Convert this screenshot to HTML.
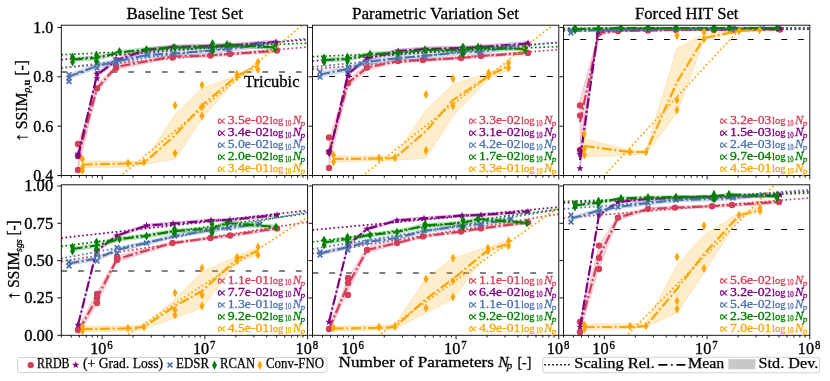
<!DOCTYPE html>
<html><head><meta charset="utf-8"><style>
html,body{margin:0;padding:0;background:#fff;width:830px;height:381px;overflow:hidden}
svg{display:block;will-change:transform}
</style></head><body>
<svg width="830" height="381" viewBox="0 0 830 381" font-family='"Liberation Serif", serif'><defs><clipPath id="c00"><rect x="61.30" y="25.20" width="246.30" height="150.30"/></clipPath><clipPath id="c10"><rect x="312.50" y="25.20" width="246.30" height="150.30"/></clipPath><clipPath id="c20"><rect x="563.50" y="25.20" width="246.30" height="150.30"/></clipPath><clipPath id="c01"><rect x="61.30" y="184.80" width="246.30" height="150.50"/></clipPath><clipPath id="c11"><rect x="312.50" y="184.80" width="246.30" height="150.50"/></clipPath><clipPath id="c21"><rect x="563.50" y="184.80" width="246.30" height="150.50"/></clipPath></defs><g clip-path="url(#c00)">
<path d="M61.35,72.00H307.60" stroke="#000" stroke-width="1.15" stroke-dasharray="5.8 10.95"/>
<polygon points="78.00,144.00 97.00,85.00 116.00,64.50 172.50,55.00 210.50,54.00 230.00,52.50 277.00,49.50 277.00,52.50 230.00,55.50 210.50,57.00 172.50,58.00 116.00,69.50 97.00,92.00 78.00,170.00" fill="#D53E58" fill-opacity="0.2" stroke="#D53E58" stroke-opacity="0.25" stroke-width="0.8"/>
<polyline points="78.00,157.00 97.00,88.50 116.00,67.00 172.50,56.50 210.50,55.50 230.00,54.00 277.00,51.00" fill="none" stroke="#D53E58" stroke-width="2.2" stroke-dasharray="10.2 2.6 2 2.6"/>
<circle cx="78.00" cy="144.00" r="3.2" fill="#D53E58"/>
<circle cx="78.00" cy="156.00" r="3.2" fill="#D53E58"/>
<circle cx="78.00" cy="170.00" r="3.2" fill="#D53E58"/>
<circle cx="97.00" cy="88.50" r="3.2" fill="#D53E58"/>
<circle cx="116.00" cy="66.00" r="3.2" fill="#D53E58"/>
<circle cx="116.00" cy="68.00" r="3.2" fill="#D53E58"/>
<circle cx="172.50" cy="57.50" r="3.2" fill="#D53E58"/>
<circle cx="210.50" cy="55.50" r="3.2" fill="#D53E58"/>
<circle cx="230.00" cy="54.00" r="3.2" fill="#D53E58"/>
<circle cx="277.00" cy="50.50" r="3.2" fill="#D53E58"/>
<path d="M61.30,67.80L307.60,47.11" stroke="#D53E58" stroke-width="1.7" stroke-dasharray="1.7 2.5"/>
<polygon points="78.00,154.00 97.00,73.00 116.00,58.50 146.00,48.00 173.00,45.00 211.00,44.00 230.00,43.50 276.00,40.00 276.00,44.00 230.00,47.50 211.00,48.00 173.00,49.00 146.00,52.00 116.00,62.50 97.00,77.00 78.00,158.00" fill="#800080" fill-opacity="0.2" stroke="#800080" stroke-opacity="0.25" stroke-width="0.8"/>
<polyline points="78.00,156.00 97.00,75.00 116.00,60.50 146.00,50.00 173.00,47.00 211.00,46.00 230.00,45.50 276.00,42.00" fill="none" stroke="#800080" stroke-width="2.2" stroke-dasharray="10.2 2.6 2 2.6"/>
<polygon points="78.00,152.70 78.94,155.21 81.61,155.33 79.52,156.99 80.23,159.57 78.00,158.10 75.77,159.57 76.48,156.99 74.39,155.33 77.06,155.21" fill="#800080"/>
<polygon points="78.00,150.20 78.94,152.71 81.61,152.83 79.52,154.49 80.23,157.07 78.00,155.60 75.77,157.07 76.48,154.49 74.39,152.83 77.06,152.71" fill="#800080"/>
<polygon points="97.00,70.20 97.94,72.71 100.61,72.83 98.52,74.49 99.23,77.07 97.00,75.60 94.77,77.07 95.48,74.49 93.39,72.83 96.06,72.71" fill="#800080"/>
<polygon points="97.00,74.70 97.94,77.21 100.61,77.33 98.52,78.99 99.23,81.57 97.00,80.10 94.77,81.57 95.48,78.99 93.39,77.33 96.06,77.21" fill="#800080"/>
<polygon points="116.00,55.20 116.94,57.71 119.61,57.83 117.52,59.49 118.23,62.07 116.00,60.60 113.77,62.07 114.48,59.49 112.39,57.83 115.06,57.71" fill="#800080"/>
<polygon points="116.00,58.20 116.94,60.71 119.61,60.83 117.52,62.49 118.23,65.07 116.00,63.60 113.77,65.07 114.48,62.49 112.39,60.83 115.06,60.71" fill="#800080"/>
<polygon points="146.00,46.20 146.94,48.71 149.61,48.83 147.52,50.49 148.23,53.07 146.00,51.60 143.77,53.07 144.48,50.49 142.39,48.83 145.06,48.71" fill="#800080"/>
<polygon points="173.00,43.20 173.94,45.71 176.61,45.83 174.52,47.49 175.23,50.07 173.00,48.60 170.77,50.07 171.48,47.49 169.39,45.83 172.06,45.71" fill="#800080"/>
<polygon points="211.00,42.20 211.94,44.71 214.61,44.83 212.52,46.49 213.23,49.07 211.00,47.60 208.77,49.07 209.48,46.49 207.39,44.83 210.06,44.71" fill="#800080"/>
<polygon points="230.00,41.20 230.94,43.71 233.61,43.83 231.52,45.49 232.23,48.07 230.00,46.60 227.77,48.07 228.48,45.49 226.39,43.83 229.06,43.71" fill="#800080"/>
<polygon points="276.00,38.20 276.94,40.71 279.61,40.83 277.52,42.49 278.23,45.07 276.00,43.60 273.77,45.07 274.48,42.49 272.39,40.83 275.06,40.71" fill="#800080"/>
<polygon points="276.00,39.20 276.94,41.71 279.61,41.83 277.52,43.49 278.23,46.07 276.00,44.60 273.77,46.07 274.48,43.49 272.39,41.83 275.06,41.71" fill="#800080"/>
<path d="M61.30,59.70L307.60,39.58" stroke="#800080" stroke-width="1.7" stroke-dasharray="1.7 2.5"/>
<polygon points="69.00,74.00 97.00,63.50 116.00,59.00 147.00,52.50 174.00,51.00 212.00,48.00 229.00,46.50 260.00,42.50 260.00,47.50 229.00,51.50 212.00,53.00 174.00,56.00 147.00,57.50 116.00,64.00 97.00,68.50 69.00,79.00" fill="#4C72B0" fill-opacity="0.2" stroke="#4C72B0" stroke-opacity="0.25" stroke-width="0.8"/>
<polyline points="69.00,76.50 97.00,66.00 116.00,61.50 147.00,55.00 174.00,53.50 212.00,50.50 229.00,49.00 260.00,45.00" fill="none" stroke="#4C72B0" stroke-width="2.2" stroke-dasharray="10.2 2.6 2 2.6"/>
<path d="M66.60,72.20L71.40,77.00M66.60,77.00L71.40,72.20" stroke="#4C72B0" stroke-width="1.6"/>
<path d="M66.60,75.60L71.40,80.40M66.60,80.40L71.40,75.60" stroke="#4C72B0" stroke-width="1.6"/>
<path d="M66.60,79.10L71.40,83.90M66.60,83.90L71.40,79.10" stroke="#4C72B0" stroke-width="1.6"/>
<path d="M94.60,61.10L99.40,65.90M94.60,65.90L99.40,61.10" stroke="#4C72B0" stroke-width="1.6"/>
<path d="M94.60,65.60L99.40,70.40M94.60,70.40L99.40,65.60" stroke="#4C72B0" stroke-width="1.6"/>
<path d="M113.60,57.60L118.40,62.40M113.60,62.40L118.40,57.60" stroke="#4C72B0" stroke-width="1.6"/>
<path d="M113.60,60.60L118.40,65.40M113.60,65.40L118.40,60.60" stroke="#4C72B0" stroke-width="1.6"/>
<path d="M144.60,52.60L149.40,57.40M144.60,57.40L149.40,52.60" stroke="#4C72B0" stroke-width="1.6"/>
<path d="M171.60,51.10L176.40,55.90M171.60,55.90L176.40,51.10" stroke="#4C72B0" stroke-width="1.6"/>
<path d="M209.60,47.60L214.40,52.40M209.60,52.40L214.40,47.60" stroke="#4C72B0" stroke-width="1.6"/>
<path d="M226.60,47.10L231.40,51.90M226.60,51.90L231.40,47.10" stroke="#4C72B0" stroke-width="1.6"/>
<path d="M257.60,41.60L262.40,46.40M257.60,46.40L262.40,41.60" stroke="#4C72B0" stroke-width="1.6"/>
<path d="M257.60,43.60L262.40,48.40M257.60,48.40L262.40,43.60" stroke="#4C72B0" stroke-width="1.6"/>
<path d="M61.30,68.00L307.60,38.42" stroke="#4C72B0" stroke-width="1.7" stroke-dasharray="1.7 2.5"/>
<polygon points="72.50,57.50 96.50,56.00 119.50,50.50 146.50,47.50 174.50,45.50 212.50,45.00 227.00,43.00 275.00,45.50 275.00,49.50 227.00,47.00 212.50,49.00 174.50,49.50 146.50,51.50 119.50,54.50 96.50,60.00 72.50,61.50" fill="#008000" fill-opacity="0.2" stroke="#008000" stroke-opacity="0.25" stroke-width="0.8"/>
<polyline points="72.50,59.50 96.50,58.00 119.50,52.50 146.50,49.50 174.50,47.50 212.50,47.00 227.00,45.00 275.00,47.50" fill="none" stroke="#008000" stroke-width="2.2" stroke-dasharray="10.2 2.6 2 2.6"/>
<polygon points="72.50,52.40 75.00,57.00 72.50,61.60 70.00,57.00" fill="#008000"/>
<polygon points="72.50,57.40 75.00,62.00 72.50,66.60 70.00,62.00" fill="#008000"/>
<polygon points="96.50,50.40 99.00,55.00 96.50,59.60 94.00,55.00" fill="#008000"/>
<polygon points="96.50,56.40 99.00,61.00 96.50,65.60 94.00,61.00" fill="#008000"/>
<polygon points="119.50,46.90 122.00,51.50 119.50,56.10 117.00,51.50" fill="#008000"/>
<polygon points="146.50,44.90 149.00,49.50 146.50,54.10 144.00,49.50" fill="#008000"/>
<polygon points="174.50,42.90 177.00,47.50 174.50,52.10 172.00,47.50" fill="#008000"/>
<polygon points="212.50,38.90 215.00,43.50 212.50,48.10 210.00,43.50" fill="#008000"/>
<polygon points="212.50,46.40 215.00,51.00 212.50,55.60 210.00,51.00" fill="#008000"/>
<polygon points="227.00,39.90 229.50,44.50 227.00,49.10 224.50,44.50" fill="#008000"/>
<polygon points="275.00,41.90 277.50,46.50 275.00,51.10 272.50,46.50" fill="#008000"/>
<polygon points="275.00,43.90 277.50,48.50 275.00,53.10 272.50,48.50" fill="#008000"/>
<path d="M61.30,54.80L307.60,42.98" stroke="#008000" stroke-width="1.7" stroke-dasharray="1.7 2.5"/>
<polygon points="82.50,161.00 128.00,161.00 144.00,162.30 175.00,114.40 202.00,88.30 237.00,75.50 258.00,62.00 258.00,69.50 237.00,78.50 202.00,118.90 175.00,159.30 144.00,164.40 128.00,167.00 82.50,168.00" fill="#FFA500" fill-opacity="0.2" stroke="#FFA500" stroke-opacity="0.25" stroke-width="0.8"/>
<polyline points="82.50,164.50 128.00,163.50 144.00,163.00 175.00,135.30 202.00,105.40 237.00,76.00 258.00,65.50" fill="none" stroke="#FFA500" stroke-width="2.2" stroke-dasharray="10.2 2.6 2 2.6"/>
<polygon points="82.50,154.40 85.00,159.00 82.50,163.60 80.00,159.00" fill="#FFA500"/>
<polygon points="82.50,162.40 85.00,167.00 82.50,171.60 80.00,167.00" fill="#FFA500"/>
<polygon points="82.50,165.90 85.00,170.50 82.50,175.10 80.00,170.50" fill="#FFA500"/>
<polygon points="128.00,158.40 130.50,163.00 128.00,167.60 125.50,163.00" fill="#FFA500"/>
<polygon points="144.00,157.40 146.50,162.00 144.00,166.60 141.50,162.00" fill="#FFA500"/>
<polygon points="175.00,100.80 177.50,105.40 175.00,110.00 172.50,105.40" fill="#FFA500"/>
<polygon points="175.00,148.70 177.50,153.30 175.00,157.90 172.50,153.30" fill="#FFA500"/>
<polygon points="202.00,80.40 204.50,85.00 202.00,89.60 199.50,85.00" fill="#FFA500"/>
<polygon points="202.00,102.30 204.50,106.90 202.00,111.50 199.50,106.90" fill="#FFA500"/>
<polygon points="202.00,111.30 204.50,115.90 202.00,120.50 199.50,115.90" fill="#FFA500"/>
<polygon points="237.00,69.40 239.50,74.00 237.00,78.60 234.50,74.00" fill="#FFA500"/>
<polygon points="237.00,72.40 239.50,77.00 237.00,81.60 234.50,77.00" fill="#FFA500"/>
<polygon points="258.00,57.40 260.50,62.00 258.00,66.60 255.50,62.00" fill="#FFA500"/>
<polygon points="258.00,64.90 260.50,69.50 258.00,74.10 255.50,69.50" fill="#FFA500"/>
<path d="M61.30,225.14L307.60,20.95" stroke="#FFA500" stroke-width="1.7" stroke-dasharray="1.7 2.5"/>
</g>
<text x="244" y="86.5" font-size="15.9" textLength="55.5" lengthAdjust="spacingAndGlyphs" stroke="#000" stroke-width="0.3">Tricubic</text>
<g clip-path="url(#c10)">
<path d="M312.55,76.50H558.80" stroke="#000" stroke-width="1.15" stroke-dasharray="5.8 10.95"/>
<polygon points="329.00,139.50 348.00,79.00 367.00,64.60 398.00,59.50 423.00,58.50 461.00,56.50 481.00,54.50 528.00,51.50 528.00,54.50 481.00,57.50 461.00,59.50 423.00,61.50 398.00,62.50 367.00,70.60 348.00,87.00 329.00,165.50" fill="#D53E58" fill-opacity="0.2" stroke="#D53E58" stroke-opacity="0.25" stroke-width="0.8"/>
<polyline points="329.00,152.50 348.00,83.00 367.00,67.60 398.00,61.00 423.00,60.00 461.00,58.00 481.00,56.00 528.00,53.00" fill="none" stroke="#D53E58" stroke-width="2.2" stroke-dasharray="10.2 2.6 2 2.6"/>
<circle cx="329.00" cy="137.40" r="3.2" fill="#D53E58"/>
<circle cx="329.00" cy="152.00" r="3.2" fill="#D53E58"/>
<circle cx="329.00" cy="168.00" r="3.2" fill="#D53E58"/>
<circle cx="348.00" cy="83.00" r="3.2" fill="#D53E58"/>
<circle cx="367.00" cy="67.60" r="3.2" fill="#D53E58"/>
<circle cx="398.00" cy="61.00" r="3.2" fill="#D53E58"/>
<circle cx="423.00" cy="60.00" r="3.2" fill="#D53E58"/>
<circle cx="461.00" cy="58.00" r="3.2" fill="#D53E58"/>
<circle cx="481.00" cy="56.00" r="3.2" fill="#D53E58"/>
<circle cx="528.00" cy="53.00" r="3.2" fill="#D53E58"/>
<path d="M312.50,69.10L558.80,49.57" stroke="#D53E58" stroke-width="1.7" stroke-dasharray="1.7 2.5"/>
<polygon points="329.00,154.00 348.00,72.00 367.00,56.50 398.00,49.00 425.00,47.00 462.00,46.00 481.00,45.00 528.00,41.50 528.00,45.50 481.00,49.00 462.00,50.00 425.00,51.00 398.00,53.00 367.00,60.50 348.00,76.00 329.00,158.00" fill="#800080" fill-opacity="0.2" stroke="#800080" stroke-opacity="0.25" stroke-width="0.8"/>
<polyline points="329.00,156.00 348.00,74.00 367.00,58.50 398.00,51.00 425.00,49.00 462.00,48.00 481.00,47.00 528.00,43.50" fill="none" stroke="#800080" stroke-width="2.2" stroke-dasharray="10.2 2.6 2 2.6"/>
<polygon points="329.00,147.80 329.94,150.31 332.61,150.43 330.52,152.09 331.23,154.67 329.00,153.20 326.77,154.67 327.48,152.09 325.39,150.43 328.06,150.31" fill="#800080"/>
<polygon points="348.00,68.20 348.94,70.71 351.61,70.83 349.52,72.49 350.23,75.07 348.00,73.60 345.77,75.07 346.48,72.49 344.39,70.83 347.06,70.71" fill="#800080"/>
<polygon points="348.00,72.20 348.94,74.71 351.61,74.83 349.52,76.49 350.23,79.07 348.00,77.60 345.77,79.07 346.48,76.49 344.39,74.83 347.06,74.71" fill="#800080"/>
<polygon points="367.00,54.20 367.94,56.71 370.61,56.83 368.52,58.49 369.23,61.07 367.00,59.60 364.77,61.07 365.48,58.49 363.39,56.83 366.06,56.71" fill="#800080"/>
<polygon points="398.00,47.20 398.94,49.71 401.61,49.83 399.52,51.49 400.23,54.07 398.00,52.60 395.77,54.07 396.48,51.49 394.39,49.83 397.06,49.71" fill="#800080"/>
<polygon points="425.00,45.20 425.94,47.71 428.61,47.83 426.52,49.49 427.23,52.07 425.00,50.60 422.77,52.07 423.48,49.49 421.39,47.83 424.06,47.71" fill="#800080"/>
<polygon points="462.00,44.20 462.94,46.71 465.61,46.83 463.52,48.49 464.23,51.07 462.00,49.60 459.77,51.07 460.48,48.49 458.39,46.83 461.06,46.71" fill="#800080"/>
<polygon points="481.00,43.20 481.94,45.71 484.61,45.83 482.52,47.49 483.23,50.07 481.00,48.60 478.77,50.07 479.48,47.49 477.39,45.83 480.06,45.71" fill="#800080"/>
<polygon points="528.00,39.20 528.94,41.71 531.61,41.83 529.52,43.49 530.23,46.07 528.00,44.60 525.77,46.07 526.48,43.49 524.39,41.83 527.06,41.71" fill="#800080"/>
<polygon points="528.00,40.70 528.94,43.21 531.61,43.33 529.52,44.99 530.23,47.57 528.00,46.10 525.77,47.57 526.48,44.99 524.39,43.33 527.06,43.21" fill="#800080"/>
<path d="M312.50,61.00L558.80,42.65" stroke="#800080" stroke-width="1.7" stroke-dasharray="1.7 2.5"/>
<polygon points="320.00,72.00 348.00,66.50 367.00,59.50 398.00,55.50 425.00,53.50 463.00,49.50 480.00,49.50 511.00,44.50 511.00,49.50 480.00,54.50 463.00,54.50 425.00,58.50 398.00,60.50 367.00,64.50 348.00,71.50 320.00,77.00" fill="#4C72B0" fill-opacity="0.2" stroke="#4C72B0" stroke-opacity="0.25" stroke-width="0.8"/>
<polyline points="320.00,74.50 348.00,69.00 367.00,62.00 398.00,58.00 425.00,56.00 463.00,52.00 480.00,52.00 511.00,47.00" fill="none" stroke="#4C72B0" stroke-width="2.2" stroke-dasharray="10.2 2.6 2 2.6"/>
<path d="M317.60,69.60L322.40,74.40M317.60,74.40L322.40,69.60" stroke="#4C72B0" stroke-width="1.6"/>
<path d="M317.60,74.60L322.40,79.40M317.60,79.40L322.40,74.60" stroke="#4C72B0" stroke-width="1.6"/>
<path d="M345.60,64.60L350.40,69.40M345.60,69.40L350.40,64.60" stroke="#4C72B0" stroke-width="1.6"/>
<path d="M345.60,68.60L350.40,73.40M345.60,73.40L350.40,68.60" stroke="#4C72B0" stroke-width="1.6"/>
<path d="M364.60,59.60L369.40,64.40M364.60,64.40L369.40,59.60" stroke="#4C72B0" stroke-width="1.6"/>
<path d="M395.60,55.60L400.40,60.40M395.60,60.40L400.40,55.60" stroke="#4C72B0" stroke-width="1.6"/>
<path d="M422.60,53.60L427.40,58.40M422.60,58.40L427.40,53.60" stroke="#4C72B0" stroke-width="1.6"/>
<path d="M460.60,49.60L465.40,54.40M460.60,54.40L465.40,49.60" stroke="#4C72B0" stroke-width="1.6"/>
<path d="M477.60,49.60L482.40,54.40M477.60,54.40L482.40,49.60" stroke="#4C72B0" stroke-width="1.6"/>
<path d="M508.60,44.60L513.40,49.40M508.60,49.40L513.40,44.60" stroke="#4C72B0" stroke-width="1.6"/>
<path d="M312.50,67.00L558.80,42.15" stroke="#4C72B0" stroke-width="1.7" stroke-dasharray="1.7 2.5"/>
<polygon points="324.00,58.00 347.50,57.00 370.00,52.00 398.00,51.00 425.00,48.00 463.00,48.00 478.00,45.50 525.00,47.00 525.00,51.00 478.00,49.50 463.00,52.00 425.00,52.00 398.00,55.00 370.00,56.00 347.50,61.00 324.00,62.00" fill="#008000" fill-opacity="0.2" stroke="#008000" stroke-opacity="0.25" stroke-width="0.8"/>
<polyline points="324.00,60.00 347.50,59.00 370.00,54.00 398.00,53.00 425.00,50.00 463.00,50.00 478.00,47.50 525.00,49.00" fill="none" stroke="#008000" stroke-width="2.2" stroke-dasharray="10.2 2.6 2 2.6"/>
<polygon points="324.00,53.40 326.50,58.00 324.00,62.60 321.50,58.00" fill="#008000"/>
<polygon points="324.00,57.40 326.50,62.00 324.00,66.60 321.50,62.00" fill="#008000"/>
<polygon points="347.50,52.40 350.00,57.00 347.50,61.60 345.00,57.00" fill="#008000"/>
<polygon points="347.50,56.40 350.00,61.00 347.50,65.60 345.00,61.00" fill="#008000"/>
<polygon points="370.00,49.40 372.50,54.00 370.00,58.60 367.50,54.00" fill="#008000"/>
<polygon points="398.00,48.40 400.50,53.00 398.00,57.60 395.50,53.00" fill="#008000"/>
<polygon points="425.00,45.40 427.50,50.00 425.00,54.60 422.50,50.00" fill="#008000"/>
<polygon points="463.00,42.40 465.50,47.00 463.00,51.60 460.50,47.00" fill="#008000"/>
<polygon points="463.00,49.40 465.50,54.00 463.00,58.60 460.50,54.00" fill="#008000"/>
<polygon points="478.00,42.40 480.50,47.00 478.00,51.60 475.50,47.00" fill="#008000"/>
<polygon points="525.00,43.40 527.50,48.00 525.00,52.60 522.50,48.00" fill="#008000"/>
<polygon points="525.00,45.40 527.50,50.00 525.00,54.60 522.50,50.00" fill="#008000"/>
<path d="M312.50,56.60L558.80,46.55" stroke="#008000" stroke-width="1.7" stroke-dasharray="1.7 2.5"/>
<polygon points="333.50,156.00 379.00,156.00 395.00,155.50 426.00,110.00 453.00,84.00 488.60,73.00 508.60,62.00 508.60,70.00 488.60,79.00 453.00,116.00 426.00,158.00 395.00,160.50 379.00,161.00 333.50,162.00" fill="#FFA500" fill-opacity="0.2" stroke="#FFA500" stroke-opacity="0.25" stroke-width="0.8"/>
<polyline points="333.50,159.00 379.00,158.50 395.00,158.00 426.00,131.00 453.00,100.00 488.60,76.00 508.60,66.00" fill="none" stroke="#FFA500" stroke-width="2.2" stroke-dasharray="10.2 2.6 2 2.6"/>
<polygon points="333.50,150.40 336.00,155.00 333.50,159.60 331.00,155.00" fill="#FFA500"/>
<polygon points="333.50,157.40 336.00,162.00 333.50,166.60 331.00,162.00" fill="#FFA500"/>
<polygon points="379.00,153.40 381.50,158.00 379.00,162.60 376.50,158.00" fill="#FFA500"/>
<polygon points="395.00,153.00 397.50,157.60 395.00,162.20 392.50,157.60" fill="#FFA500"/>
<polygon points="426.00,89.80 428.50,94.40 426.00,99.00 423.50,94.40" fill="#FFA500"/>
<polygon points="426.00,145.80 428.50,150.40 426.00,155.00 423.50,150.40" fill="#FFA500"/>
<polygon points="453.00,74.00 455.50,78.60 453.00,83.20 450.50,78.60" fill="#FFA500"/>
<polygon points="453.00,101.40 455.50,106.00 453.00,110.60 450.50,106.00" fill="#FFA500"/>
<polygon points="488.60,68.40 491.10,73.00 488.60,77.60 486.10,73.00" fill="#FFA500"/>
<polygon points="488.60,71.40 491.10,76.00 488.60,80.60 486.10,76.00" fill="#FFA500"/>
<polygon points="508.60,58.40 511.10,63.00 508.60,67.60 506.10,63.00" fill="#FFA500"/>
<polygon points="508.60,63.40 511.10,68.00 508.60,72.60 506.10,68.00" fill="#FFA500"/>
<path d="M312.50,215.63L558.80,20.32" stroke="#FFA500" stroke-width="1.7" stroke-dasharray="1.7 2.5"/>
</g>
<g clip-path="url(#c20)">
<path d="M563.55,39.50H809.80" stroke="#000" stroke-width="1.15" stroke-dasharray="5.8 10.95"/>
<polygon points="580.00,100.00 599.00,31.00 618.00,30.00 648.00,29.50 676.00,29.00 714.00,29.00 733.00,29.00 780.00,28.50 780.00,30.50 733.00,31.00 714.00,31.00 676.00,31.00 648.00,31.50 618.00,32.00 599.00,35.00 580.00,144.00" fill="#D53E58" fill-opacity="0.2" stroke="#D53E58" stroke-opacity="0.25" stroke-width="0.8"/>
<polyline points="580.00,122.00 599.00,33.00 618.00,31.00 648.00,30.50 676.00,30.00 714.00,30.00 733.00,30.00 780.00,29.50" fill="none" stroke="#D53E58" stroke-width="2.2" stroke-dasharray="10.2 2.6 2 2.6"/>
<circle cx="580.00" cy="105.40" r="3.2" fill="#D53E58"/>
<circle cx="580.00" cy="115.60" r="3.2" fill="#D53E58"/>
<circle cx="580.00" cy="150.00" r="3.2" fill="#D53E58"/>
<circle cx="599.00" cy="33.00" r="3.2" fill="#D53E58"/>
<circle cx="618.00" cy="31.00" r="3.2" fill="#D53E58"/>
<circle cx="648.00" cy="30.50" r="3.2" fill="#D53E58"/>
<circle cx="676.00" cy="30.00" r="3.2" fill="#D53E58"/>
<circle cx="714.00" cy="30.00" r="3.2" fill="#D53E58"/>
<circle cx="733.00" cy="30.00" r="3.2" fill="#D53E58"/>
<circle cx="780.00" cy="29.50" r="3.2" fill="#D53E58"/>
<path d="M563.50,31.00L809.80,29.10" stroke="#D53E58" stroke-width="1.7" stroke-dasharray="1.7 2.5"/>
<polygon points="580.00,150.00 598.00,29.00 618.00,28.50 648.00,28.00 676.00,28.00 714.00,28.00 733.00,28.00 780.00,27.50 780.00,29.50 733.00,30.00 714.00,30.00 676.00,30.00 648.00,30.00 618.00,30.50 598.00,33.00 580.00,170.00" fill="#800080" fill-opacity="0.2" stroke="#800080" stroke-opacity="0.25" stroke-width="0.8"/>
<polyline points="580.00,160.00 598.00,31.00 618.00,29.50 648.00,29.00 676.00,29.00 714.00,29.00 733.00,29.00 780.00,28.50" fill="none" stroke="#800080" stroke-width="2.2" stroke-dasharray="10.2 2.6 2 2.6"/>
<polygon points="580.00,146.20 580.94,148.71 583.61,148.83 581.52,150.49 582.23,153.07 580.00,151.60 577.77,153.07 578.48,150.49 576.39,148.83 579.06,148.71" fill="#800080"/>
<polygon points="580.00,150.70 580.94,153.21 583.61,153.33 581.52,154.99 582.23,157.57 580.00,156.10 577.77,157.57 578.48,154.99 576.39,153.33 579.06,153.21" fill="#800080"/>
<polygon points="580.00,164.70 580.94,167.21 583.61,167.33 581.52,168.99 582.23,171.57 580.00,170.10 577.77,171.57 578.48,168.99 576.39,167.33 579.06,167.21" fill="#800080"/>
<polygon points="598.00,27.20 598.94,29.71 601.61,29.83 599.52,31.49 600.23,34.07 598.00,32.60 595.77,34.07 596.48,31.49 594.39,29.83 597.06,29.71" fill="#800080"/>
<polygon points="618.00,25.70 618.94,28.21 621.61,28.33 619.52,29.99 620.23,32.57 618.00,31.10 615.77,32.57 616.48,29.99 614.39,28.33 617.06,28.21" fill="#800080"/>
<polygon points="648.00,25.20 648.94,27.71 651.61,27.83 649.52,29.49 650.23,32.07 648.00,30.60 645.77,32.07 646.48,29.49 644.39,27.83 647.06,27.71" fill="#800080"/>
<polygon points="676.00,25.20 676.94,27.71 679.61,27.83 677.52,29.49 678.23,32.07 676.00,30.60 673.77,32.07 674.48,29.49 672.39,27.83 675.06,27.71" fill="#800080"/>
<polygon points="714.00,25.20 714.94,27.71 717.61,27.83 715.52,29.49 716.23,32.07 714.00,30.60 711.77,32.07 712.48,29.49 710.39,27.83 713.06,27.71" fill="#800080"/>
<polygon points="733.00,25.20 733.94,27.71 736.61,27.83 734.52,29.49 735.23,32.07 733.00,30.60 730.77,32.07 731.48,29.49 729.39,27.83 732.06,27.71" fill="#800080"/>
<polygon points="780.00,24.70 780.94,27.21 783.61,27.33 781.52,28.99 782.23,31.57 780.00,30.10 777.77,31.57 778.48,28.99 776.39,27.33 779.06,27.21" fill="#800080"/>
<path d="M563.50,30.00L809.80,29.11" stroke="#800080" stroke-width="1.7" stroke-dasharray="1.7 2.5"/>
<polygon points="571.00,29.80 599.00,28.80 618.00,28.30 648.00,27.80 676.00,27.80 714.00,27.80 733.00,27.30 762.00,27.30 762.00,29.70 733.00,29.70 714.00,30.20 676.00,30.20 648.00,30.20 618.00,30.70 599.00,31.20 571.00,32.20" fill="#4C72B0" fill-opacity="0.2" stroke="#4C72B0" stroke-opacity="0.25" stroke-width="0.8"/>
<polyline points="571.00,31.00 599.00,30.00 618.00,29.50 648.00,29.00 676.00,29.00 714.00,29.00 733.00,28.50 762.00,28.50" fill="none" stroke="#4C72B0" stroke-width="2.2" stroke-dasharray="10.2 2.6 2 2.6"/>
<path d="M568.60,27.60L573.40,32.40M568.60,32.40L573.40,27.60" stroke="#4C72B0" stroke-width="1.6"/>
<path d="M568.60,30.60L573.40,35.40M568.60,35.40L573.40,30.60" stroke="#4C72B0" stroke-width="1.6"/>
<path d="M596.60,27.60L601.40,32.40M596.60,32.40L601.40,27.60" stroke="#4C72B0" stroke-width="1.6"/>
<path d="M615.60,27.10L620.40,31.90M615.60,31.90L620.40,27.10" stroke="#4C72B0" stroke-width="1.6"/>
<path d="M645.60,26.60L650.40,31.40M645.60,31.40L650.40,26.60" stroke="#4C72B0" stroke-width="1.6"/>
<path d="M673.60,26.60L678.40,31.40M673.60,31.40L678.40,26.60" stroke="#4C72B0" stroke-width="1.6"/>
<path d="M711.60,26.60L716.40,31.40M711.60,31.40L716.40,26.60" stroke="#4C72B0" stroke-width="1.6"/>
<path d="M730.60,26.10L735.40,30.90M730.60,30.90L735.40,26.10" stroke="#4C72B0" stroke-width="1.6"/>
<path d="M759.60,26.10L764.40,30.90M759.60,30.90L764.40,26.10" stroke="#4C72B0" stroke-width="1.6"/>
<path d="M563.50,29.80L809.80,28.37" stroke="#4C72B0" stroke-width="1.7" stroke-dasharray="1.7 2.5"/>
<polygon points="575.00,28.00 598.50,27.50 621.00,27.00 648.00,27.00 676.00,27.00 714.00,27.00 729.00,27.00 777.00,27.00 777.00,29.00 729.00,29.00 714.00,29.00 676.00,29.00 648.00,29.00 621.00,29.00 598.50,29.50 575.00,30.00" fill="#008000" fill-opacity="0.2" stroke="#008000" stroke-opacity="0.25" stroke-width="0.8"/>
<polyline points="575.00,29.00 598.50,28.50 621.00,28.00 648.00,28.00 676.00,28.00 714.00,28.00 729.00,28.00 777.00,28.00" fill="none" stroke="#008000" stroke-width="2.2" stroke-dasharray="10.2 2.6 2 2.6"/>
<polygon points="575.00,23.40 577.50,28.00 575.00,32.60 572.50,28.00" fill="#008000"/>
<polygon points="575.00,25.40 577.50,30.00 575.00,34.60 572.50,30.00" fill="#008000"/>
<polygon points="598.50,23.90 601.00,28.50 598.50,33.10 596.00,28.50" fill="#008000"/>
<polygon points="621.00,23.40 623.50,28.00 621.00,32.60 618.50,28.00" fill="#008000"/>
<polygon points="648.00,23.40 650.50,28.00 648.00,32.60 645.50,28.00" fill="#008000"/>
<polygon points="676.00,23.40 678.50,28.00 676.00,32.60 673.50,28.00" fill="#008000"/>
<polygon points="714.00,22.90 716.50,27.50 714.00,32.10 711.50,27.50" fill="#008000"/>
<polygon points="714.00,24.40 716.50,29.00 714.00,33.60 711.50,29.00" fill="#008000"/>
<polygon points="729.00,23.40 731.50,28.00 729.00,32.60 726.50,28.00" fill="#008000"/>
<polygon points="777.00,23.40 779.50,28.00 777.00,32.60 774.50,28.00" fill="#008000"/>
<path d="M563.50,28.30L809.80,27.73" stroke="#008000" stroke-width="1.7" stroke-dasharray="1.7 2.5"/>
<polygon points="584.40,139.00 630.00,150.00 646.00,150.00 677.00,48.00 704.00,34.00 739.00,30.00 759.60,29.00 759.60,31.00 739.00,32.00 704.00,40.00 677.00,113.00 646.00,154.00 630.00,155.00 584.40,157.00" fill="#FFA500" fill-opacity="0.2" stroke="#FFA500" stroke-opacity="0.25" stroke-width="0.8"/>
<polyline points="584.40,146.00 630.00,152.00 646.00,152.00 677.00,82.00 704.00,38.00 739.00,31.00 759.60,30.00" fill="none" stroke="#FFA500" stroke-width="2.2" stroke-dasharray="10.2 2.6 2 2.6"/>
<polygon points="584.40,129.40 586.90,134.00 584.40,138.60 581.90,134.00" fill="#FFA500"/>
<polygon points="584.40,144.40 586.90,149.00 584.40,153.60 581.90,149.00" fill="#FFA500"/>
<polygon points="584.40,150.40 586.90,155.00 584.40,159.60 581.90,155.00" fill="#FFA500"/>
<polygon points="630.00,147.40 632.50,152.00 630.00,156.60 627.50,152.00" fill="#FFA500"/>
<polygon points="646.00,147.40 648.50,152.00 646.00,156.60 643.50,152.00" fill="#FFA500"/>
<polygon points="677.00,31.00 679.50,35.60 677.00,40.20 674.50,35.60" fill="#FFA500"/>
<polygon points="677.00,95.40 679.50,100.00 677.00,104.60 674.50,100.00" fill="#FFA500"/>
<polygon points="677.00,105.40 679.50,110.00 677.00,114.60 674.50,110.00" fill="#FFA500"/>
<polygon points="704.00,27.40 706.50,32.00 704.00,36.60 701.50,32.00" fill="#FFA500"/>
<polygon points="704.00,34.40 706.50,39.00 704.00,43.60 701.50,39.00" fill="#FFA500"/>
<polygon points="739.00,26.40 741.50,31.00 739.00,35.60 736.50,31.00" fill="#FFA500"/>
<polygon points="759.60,25.40 762.10,30.00 759.60,34.60 757.10,30.00" fill="#FFA500"/>
<path d="M563.50,219.69L809.80,-46.56" stroke="#FFA500" stroke-width="1.7" stroke-dasharray="1.7 2.5"/>
</g>
<g clip-path="url(#c01)">
<path d="M61.35,271.00H307.60" stroke="#000" stroke-width="1.15" stroke-dasharray="5.8 10.95"/>
<polygon points="79.00,326.00 97.00,292.00 117.00,256.00 172.50,241.50 210.50,236.50 230.00,234.00 277.00,226.90 277.00,229.90 230.00,237.00 210.50,239.50 172.50,244.50 117.00,262.00 97.00,304.00 79.00,334.00" fill="#D53E58" fill-opacity="0.2" stroke="#D53E58" stroke-opacity="0.25" stroke-width="0.8"/>
<polyline points="79.00,330.00 97.00,298.00 117.00,259.00 172.50,243.00 210.50,238.00 230.00,235.50 277.00,228.40" fill="none" stroke="#D53E58" stroke-width="2.2" stroke-dasharray="10.2 2.6 2 2.6"/>
<circle cx="78.00" cy="330.00" r="3.2" fill="#D53E58"/>
<circle cx="97.00" cy="294.00" r="3.2" fill="#D53E58"/>
<circle cx="97.00" cy="298.00" r="3.2" fill="#D53E58"/>
<circle cx="97.00" cy="303.00" r="3.2" fill="#D53E58"/>
<circle cx="117.00" cy="257.00" r="3.2" fill="#D53E58"/>
<circle cx="117.00" cy="260.00" r="3.2" fill="#D53E58"/>
<circle cx="172.50" cy="243.00" r="3.2" fill="#D53E58"/>
<circle cx="210.50" cy="238.00" r="3.2" fill="#D53E58"/>
<circle cx="230.00" cy="235.50" r="3.2" fill="#D53E58"/>
<circle cx="277.00" cy="228.40" r="3.2" fill="#D53E58"/>
<path d="M61.30,261.40L307.60,221.99" stroke="#D53E58" stroke-width="1.7" stroke-dasharray="1.7 2.5"/>
<polygon points="78.00,323.50 96.50,249.50 117.00,234.10 146.50,224.10 173.00,222.10 211.00,218.90 230.00,218.50 277.00,213.50 277.00,216.50 230.00,221.50 211.00,221.90 173.00,225.10 146.50,227.10 117.00,237.10 96.50,252.50 78.00,326.50" fill="#800080" fill-opacity="0.2" stroke="#800080" stroke-opacity="0.25" stroke-width="0.8"/>
<polyline points="78.00,325.00 96.50,251.00 117.00,235.60 146.50,225.60 173.00,223.60 211.00,220.40 230.00,220.00 277.00,215.00" fill="none" stroke="#800080" stroke-width="2.2" stroke-dasharray="10.2 2.6 2 2.6"/>
<polygon points="78.00,321.20 78.94,323.71 81.61,323.83 79.52,325.49 80.23,328.07 78.00,326.60 75.77,328.07 76.48,325.49 74.39,323.83 77.06,323.71" fill="#800080"/>
<polygon points="96.50,247.20 97.44,249.71 100.11,249.83 98.02,251.49 98.73,254.07 96.50,252.60 94.27,254.07 94.98,251.49 92.89,249.83 95.56,249.71" fill="#800080"/>
<polygon points="117.00,231.80 117.94,234.31 120.61,234.43 118.52,236.09 119.23,238.67 117.00,237.20 114.77,238.67 115.48,236.09 113.39,234.43 116.06,234.31" fill="#800080"/>
<polygon points="146.50,221.80 147.44,224.31 150.11,224.43 148.02,226.09 148.73,228.67 146.50,227.20 144.27,228.67 144.98,226.09 142.89,224.43 145.56,224.31" fill="#800080"/>
<polygon points="173.00,219.80 173.94,222.31 176.61,222.43 174.52,224.09 175.23,226.67 173.00,225.20 170.77,226.67 171.48,224.09 169.39,222.43 172.06,222.31" fill="#800080"/>
<polygon points="211.00,216.60 211.94,219.11 214.61,219.23 212.52,220.89 213.23,223.47 211.00,222.00 208.77,223.47 209.48,220.89 207.39,219.23 210.06,219.11" fill="#800080"/>
<polygon points="230.00,216.20 230.94,218.71 233.61,218.83 231.52,220.49 232.23,223.07 230.00,221.60 227.77,223.07 228.48,220.49 226.39,218.83 229.06,218.71" fill="#800080"/>
<polygon points="277.00,211.20 277.94,213.71 280.61,213.83 278.52,215.49 279.23,218.07 277.00,216.60 274.77,218.07 275.48,215.49 273.39,213.83 276.06,213.71" fill="#800080"/>
<path d="M61.30,238.00L307.60,210.44" stroke="#800080" stroke-width="1.7" stroke-dasharray="1.7 2.5"/>
<polygon points="69.00,261.50 97.00,256.50 117.00,248.00 146.50,241.00 174.50,234.00 212.00,228.00 229.00,226.00 260.00,222.00 260.00,226.00 229.00,230.00 212.00,232.00 174.50,238.00 146.50,245.00 117.00,252.00 97.00,260.50 69.00,265.50" fill="#4C72B0" fill-opacity="0.2" stroke="#4C72B0" stroke-opacity="0.25" stroke-width="0.8"/>
<polyline points="69.00,263.50 97.00,258.50 117.00,250.00 146.50,243.00 174.50,236.00 212.00,230.00 229.00,228.00 260.00,224.00" fill="none" stroke="#4C72B0" stroke-width="2.2" stroke-dasharray="10.2 2.6 2 2.6"/>
<path d="M66.60,259.60L71.40,264.40M66.60,264.40L71.40,259.60" stroke="#4C72B0" stroke-width="1.6"/>
<path d="M66.60,263.60L71.40,268.40M66.60,268.40L71.40,263.60" stroke="#4C72B0" stroke-width="1.6"/>
<path d="M94.60,252.60L99.40,257.40M94.60,257.40L99.40,252.60" stroke="#4C72B0" stroke-width="1.6"/>
<path d="M94.60,258.60L99.40,263.40M94.60,263.40L99.40,258.60" stroke="#4C72B0" stroke-width="1.6"/>
<path d="M114.60,245.10L119.40,249.90M114.60,249.90L119.40,245.10" stroke="#4C72B0" stroke-width="1.6"/>
<path d="M114.60,250.60L119.40,255.40M114.60,255.40L119.40,250.60" stroke="#4C72B0" stroke-width="1.6"/>
<path d="M144.10,240.60L148.90,245.40M144.10,245.40L148.90,240.60" stroke="#4C72B0" stroke-width="1.6"/>
<path d="M172.10,233.60L176.90,238.40M172.10,238.40L176.90,233.60" stroke="#4C72B0" stroke-width="1.6"/>
<path d="M209.60,227.60L214.40,232.40M209.60,232.40L214.40,227.60" stroke="#4C72B0" stroke-width="1.6"/>
<path d="M226.60,225.60L231.40,230.40M226.60,230.40L231.40,225.60" stroke="#4C72B0" stroke-width="1.6"/>
<path d="M257.60,221.60L262.40,226.40M257.60,226.40L262.40,221.60" stroke="#4C72B0" stroke-width="1.6"/>
<path d="M61.30,258.50L307.60,211.95" stroke="#4C72B0" stroke-width="1.7" stroke-dasharray="1.7 2.5"/>
<polygon points="72.50,247.00 96.50,243.50 119.50,237.00 146.50,234.00 174.50,229.00 212.00,226.50 227.00,221.00 276.00,225.00 276.00,229.00 227.00,225.00 212.00,230.50 174.50,233.00 146.50,238.00 119.50,241.00 96.50,247.50 72.50,251.00" fill="#008000" fill-opacity="0.2" stroke="#008000" stroke-opacity="0.25" stroke-width="0.8"/>
<polyline points="72.50,249.00 96.50,245.50 119.50,239.00 146.50,236.00 174.50,231.00 212.00,228.50 227.00,223.00 276.00,227.00" fill="none" stroke="#008000" stroke-width="2.2" stroke-dasharray="10.2 2.6 2 2.6"/>
<polygon points="72.50,242.40 75.00,247.00 72.50,251.60 70.00,247.00" fill="#008000"/>
<polygon points="72.50,246.40 75.00,251.00 72.50,255.60 70.00,251.00" fill="#008000"/>
<polygon points="96.50,237.40 99.00,242.00 96.50,246.60 94.00,242.00" fill="#008000"/>
<polygon points="96.50,244.40 99.00,249.00 96.50,253.60 94.00,249.00" fill="#008000"/>
<polygon points="119.50,234.40 122.00,239.00 119.50,243.60 117.00,239.00" fill="#008000"/>
<polygon points="146.50,231.40 149.00,236.00 146.50,240.60 144.00,236.00" fill="#008000"/>
<polygon points="174.50,224.40 177.00,229.00 174.50,233.60 172.00,229.00" fill="#008000"/>
<polygon points="174.50,228.40 177.00,233.00 174.50,237.60 172.00,233.00" fill="#008000"/>
<polygon points="212.00,219.40 214.50,224.00 212.00,228.60 209.50,224.00" fill="#008000"/>
<polygon points="212.00,228.40 214.50,233.00 212.00,237.60 209.50,233.00" fill="#008000"/>
<polygon points="227.00,218.40 229.50,223.00 227.00,227.60 224.50,223.00" fill="#008000"/>
<polygon points="276.00,222.40 278.50,227.00 276.00,231.60 273.50,227.00" fill="#008000"/>
<path d="M61.30,246.40L307.60,213.47" stroke="#008000" stroke-width="1.7" stroke-dasharray="1.7 2.5"/>
<polygon points="82.50,326.00 128.00,326.00 144.00,325.00 175.00,299.00 202.00,272.00 237.00,256.00 258.00,247.00 258.00,255.00 237.00,262.00 202.00,308.00 175.00,318.00 144.00,329.00 128.00,331.00 82.50,332.00" fill="#FFA500" fill-opacity="0.2" stroke="#FFA500" stroke-opacity="0.25" stroke-width="0.8"/>
<polyline points="82.50,329.00 128.00,328.50 144.00,327.00 175.00,306.00 202.00,291.00 237.00,259.00 258.00,251.00" fill="none" stroke="#FFA500" stroke-width="2.2" stroke-dasharray="10.2 2.6 2 2.6"/>
<polygon points="82.50,322.40 85.00,327.00 82.50,331.60 80.00,327.00" fill="#FFA500"/>
<polygon points="82.50,326.40 85.00,331.00 82.50,335.60 80.00,331.00" fill="#FFA500"/>
<polygon points="128.00,323.40 130.50,328.00 128.00,332.60 125.50,328.00" fill="#FFA500"/>
<polygon points="144.00,322.40 146.50,327.00 144.00,331.60 141.50,327.00" fill="#FFA500"/>
<polygon points="175.00,288.40 177.50,293.00 175.00,297.60 172.50,293.00" fill="#FFA500"/>
<polygon points="175.00,305.40 177.50,310.00 175.00,314.60 172.50,310.00" fill="#FFA500"/>
<polygon points="175.00,310.40 177.50,315.00 175.00,319.60 172.50,315.00" fill="#FFA500"/>
<polygon points="202.00,263.40 204.50,268.00 202.00,272.60 199.50,268.00" fill="#FFA500"/>
<polygon points="202.00,290.40 204.50,295.00 202.00,299.60 199.50,295.00" fill="#FFA500"/>
<polygon points="202.00,301.40 204.50,306.00 202.00,310.60 199.50,306.00" fill="#FFA500"/>
<polygon points="237.00,252.40 239.50,257.00 237.00,261.60 234.50,257.00" fill="#FFA500"/>
<polygon points="237.00,256.40 239.50,261.00 237.00,265.60 234.50,261.00" fill="#FFA500"/>
<polygon points="258.00,242.40 260.50,247.00 258.00,251.60 255.50,247.00" fill="#FFA500"/>
<polygon points="258.00,250.40 260.50,255.00 258.00,259.60 255.50,255.00" fill="#FFA500"/>
<path d="M61.30,377.99L307.60,216.91" stroke="#FFA500" stroke-width="1.7" stroke-dasharray="1.7 2.5"/>
</g>
<g clip-path="url(#c11)">
<path d="M312.55,273.00H558.80" stroke="#000" stroke-width="1.15" stroke-dasharray="5.8 10.95"/>
<polygon points="329.00,326.00 348.00,278.00 367.00,247.00 397.00,241.50 423.00,234.90 461.00,230.10 481.00,226.90 528.00,220.90 528.00,223.90 481.00,229.90 461.00,233.10 423.00,237.90 397.00,244.50 367.00,253.00 348.00,292.00 329.00,332.00" fill="#D53E58" fill-opacity="0.2" stroke="#D53E58" stroke-opacity="0.25" stroke-width="0.8"/>
<polyline points="329.00,329.00 348.00,285.00 367.00,250.00 397.00,243.00 423.00,236.40 461.00,231.60 481.00,228.40 528.00,222.40" fill="none" stroke="#D53E58" stroke-width="2.2" stroke-dasharray="10.2 2.6 2 2.6"/>
<circle cx="329.00" cy="329.00" r="3.2" fill="#D53E58"/>
<circle cx="348.00" cy="278.00" r="3.2" fill="#D53E58"/>
<circle cx="348.00" cy="283.00" r="3.2" fill="#D53E58"/>
<circle cx="348.00" cy="295.00" r="3.2" fill="#D53E58"/>
<circle cx="367.00" cy="250.00" r="3.2" fill="#D53E58"/>
<circle cx="397.00" cy="243.00" r="3.2" fill="#D53E58"/>
<circle cx="423.00" cy="236.40" r="3.2" fill="#D53E58"/>
<circle cx="461.00" cy="231.60" r="3.2" fill="#D53E58"/>
<circle cx="481.00" cy="228.40" r="3.2" fill="#D53E58"/>
<circle cx="528.00" cy="222.40" r="3.2" fill="#D53E58"/>
<path d="M312.50,253.50L558.80,214.09" stroke="#D53E58" stroke-width="1.7" stroke-dasharray="1.7 2.5"/>
<polygon points="329.00,320.50 348.00,243.50 367.00,227.50 397.00,219.00 424.00,216.90 462.00,214.10 481.00,213.50 528.00,210.10 528.00,213.10 481.00,216.50 462.00,217.10 424.00,219.90 397.00,222.00 367.00,230.50 348.00,246.50 329.00,323.50" fill="#800080" fill-opacity="0.2" stroke="#800080" stroke-opacity="0.25" stroke-width="0.8"/>
<polyline points="329.00,322.00 348.00,245.00 367.00,229.00 397.00,220.50 424.00,218.40 462.00,215.60 481.00,215.00 528.00,211.60" fill="none" stroke="#800080" stroke-width="2.2" stroke-dasharray="10.2 2.6 2 2.6"/>
<polygon points="329.00,318.20 329.94,320.71 332.61,320.83 330.52,322.49 331.23,325.07 329.00,323.60 326.77,325.07 327.48,322.49 325.39,320.83 328.06,320.71" fill="#800080"/>
<polygon points="348.00,241.20 348.94,243.71 351.61,243.83 349.52,245.49 350.23,248.07 348.00,246.60 345.77,248.07 346.48,245.49 344.39,243.83 347.06,243.71" fill="#800080"/>
<polygon points="367.00,225.20 367.94,227.71 370.61,227.83 368.52,229.49 369.23,232.07 367.00,230.60 364.77,232.07 365.48,229.49 363.39,227.83 366.06,227.71" fill="#800080"/>
<polygon points="397.00,216.70 397.94,219.21 400.61,219.33 398.52,220.99 399.23,223.57 397.00,222.10 394.77,223.57 395.48,220.99 393.39,219.33 396.06,219.21" fill="#800080"/>
<polygon points="424.00,214.60 424.94,217.11 427.61,217.23 425.52,218.89 426.23,221.47 424.00,220.00 421.77,221.47 422.48,218.89 420.39,217.23 423.06,217.11" fill="#800080"/>
<polygon points="462.00,211.80 462.94,214.31 465.61,214.43 463.52,216.09 464.23,218.67 462.00,217.20 459.77,218.67 460.48,216.09 458.39,214.43 461.06,214.31" fill="#800080"/>
<polygon points="481.00,211.20 481.94,213.71 484.61,213.83 482.52,215.49 483.23,218.07 481.00,216.60 478.77,218.07 479.48,215.49 477.39,213.83 480.06,213.71" fill="#800080"/>
<polygon points="528.00,207.80 528.94,210.31 531.61,210.43 529.52,212.09 530.23,214.67 528.00,213.20 525.77,214.67 526.48,212.09 524.39,210.43 527.06,210.31" fill="#800080"/>
<path d="M312.50,230.00L558.80,207.09" stroke="#800080" stroke-width="1.7" stroke-dasharray="1.7 2.5"/>
<polygon points="320.00,251.50 348.00,245.00 367.00,240.00 397.00,236.00 424.00,229.00 462.00,224.00 481.00,222.00 511.00,217.00 511.00,221.00 481.00,226.00 462.00,228.00 424.00,233.00 397.00,240.00 367.00,244.00 348.00,249.00 320.00,255.50" fill="#4C72B0" fill-opacity="0.2" stroke="#4C72B0" stroke-opacity="0.25" stroke-width="0.8"/>
<polyline points="320.00,253.50 348.00,247.00 367.00,242.00 397.00,238.00 424.00,231.00 462.00,226.00 481.00,224.00 511.00,219.00" fill="none" stroke="#4C72B0" stroke-width="2.2" stroke-dasharray="10.2 2.6 2 2.6"/>
<path d="M317.60,249.60L322.40,254.40M317.60,254.40L322.40,249.60" stroke="#4C72B0" stroke-width="1.6"/>
<path d="M317.60,252.60L322.40,257.40M317.60,257.40L322.40,252.60" stroke="#4C72B0" stroke-width="1.6"/>
<path d="M345.60,241.60L350.40,246.40M345.60,246.40L350.40,241.60" stroke="#4C72B0" stroke-width="1.6"/>
<path d="M345.60,247.60L350.40,252.40M345.60,252.40L350.40,247.60" stroke="#4C72B0" stroke-width="1.6"/>
<path d="M364.60,239.60L369.40,244.40M364.60,244.40L369.40,239.60" stroke="#4C72B0" stroke-width="1.6"/>
<path d="M394.60,235.60L399.40,240.40M394.60,240.40L399.40,235.60" stroke="#4C72B0" stroke-width="1.6"/>
<path d="M421.60,228.60L426.40,233.40M421.60,233.40L426.40,228.60" stroke="#4C72B0" stroke-width="1.6"/>
<path d="M459.60,223.60L464.40,228.40M459.60,228.40L464.40,223.60" stroke="#4C72B0" stroke-width="1.6"/>
<path d="M478.60,221.60L483.40,226.40M478.60,226.40L483.40,221.60" stroke="#4C72B0" stroke-width="1.6"/>
<path d="M508.60,216.60L513.40,221.40M508.60,221.40L513.40,216.60" stroke="#4C72B0" stroke-width="1.6"/>
<path d="M312.50,249.00L558.80,209.59" stroke="#4C72B0" stroke-width="1.7" stroke-dasharray="1.7 2.5"/>
<polygon points="324.00,240.50 347.50,237.00 370.00,233.00 397.00,230.00 425.00,223.50 463.00,221.00 478.00,217.00 527.00,221.00 527.00,225.00 478.00,221.00 463.00,225.00 425.00,227.50 397.00,234.00 370.00,237.00 347.50,241.00 324.00,244.50" fill="#008000" fill-opacity="0.2" stroke="#008000" stroke-opacity="0.25" stroke-width="0.8"/>
<polyline points="324.00,242.50 347.50,239.00 370.00,235.00 397.00,232.00 425.00,225.50 463.00,223.00 478.00,219.00 527.00,223.00" fill="none" stroke="#008000" stroke-width="2.2" stroke-dasharray="10.2 2.6 2 2.6"/>
<polygon points="324.00,235.40 326.50,240.00 324.00,244.60 321.50,240.00" fill="#008000"/>
<polygon points="324.00,240.40 326.50,245.00 324.00,249.60 321.50,245.00" fill="#008000"/>
<polygon points="347.50,232.40 350.00,237.00 347.50,241.60 345.00,237.00" fill="#008000"/>
<polygon points="347.50,236.40 350.00,241.00 347.50,245.60 345.00,241.00" fill="#008000"/>
<polygon points="370.00,230.40 372.50,235.00 370.00,239.60 367.50,235.00" fill="#008000"/>
<polygon points="397.00,227.40 399.50,232.00 397.00,236.60 394.50,232.00" fill="#008000"/>
<polygon points="425.00,219.40 427.50,224.00 425.00,228.60 422.50,224.00" fill="#008000"/>
<polygon points="425.00,222.40 427.50,227.00 425.00,231.60 422.50,227.00" fill="#008000"/>
<polygon points="463.00,215.40 465.50,220.00 463.00,224.60 460.50,220.00" fill="#008000"/>
<polygon points="463.00,222.40 465.50,227.00 463.00,231.60 460.50,227.00" fill="#008000"/>
<polygon points="478.00,214.40 480.50,219.00 478.00,223.60 475.50,219.00" fill="#008000"/>
<polygon points="527.00,218.40 529.50,223.00 527.00,227.60 524.50,223.00" fill="#008000"/>
<path d="M312.50,242.00L558.80,209.07" stroke="#008000" stroke-width="1.7" stroke-dasharray="1.7 2.5"/>
<polygon points="333.50,326.00 379.00,325.50 395.00,324.50 426.00,278.00 453.00,258.00 488.00,247.00 508.60,240.00 508.60,247.00 488.00,252.00 453.00,299.00 426.00,313.00 395.00,329.00 379.00,330.00 333.50,331.00" fill="#FFA500" fill-opacity="0.2" stroke="#FFA500" stroke-opacity="0.25" stroke-width="0.8"/>
<polyline points="333.50,328.50 379.00,328.00 395.00,327.00 426.00,299.00 453.00,279.00 488.00,250.00 508.60,243.50" fill="none" stroke="#FFA500" stroke-width="2.2" stroke-dasharray="10.2 2.6 2 2.6"/>
<polygon points="333.50,323.40 336.00,328.00 333.50,332.60 331.00,328.00" fill="#FFA500"/>
<polygon points="379.00,322.40 381.50,327.00 379.00,331.60 376.50,327.00" fill="#FFA500"/>
<polygon points="395.00,321.80 397.50,326.40 395.00,331.00 392.50,326.40" fill="#FFA500"/>
<polygon points="426.00,274.40 428.50,279.00 426.00,283.60 423.50,279.00" fill="#FFA500"/>
<polygon points="426.00,303.40 428.50,308.00 426.00,312.60 423.50,308.00" fill="#FFA500"/>
<polygon points="453.00,253.40 455.50,258.00 453.00,262.60 450.50,258.00" fill="#FFA500"/>
<polygon points="453.00,276.40 455.50,281.00 453.00,285.60 450.50,281.00" fill="#FFA500"/>
<polygon points="453.00,292.40 455.50,297.00 453.00,301.60 450.50,297.00" fill="#FFA500"/>
<polygon points="488.00,243.40 490.50,248.00 488.00,252.60 485.50,248.00" fill="#FFA500"/>
<polygon points="488.00,246.40 490.50,251.00 488.00,255.60 485.50,251.00" fill="#FFA500"/>
<polygon points="508.60,236.40 511.10,241.00 508.60,245.60 506.10,241.00" fill="#FFA500"/>
<polygon points="508.60,241.40 511.10,246.00 508.60,250.60 506.10,246.00" fill="#FFA500"/>
<path d="M312.50,382.51L558.80,207.14" stroke="#FFA500" stroke-width="1.7" stroke-dasharray="1.7 2.5"/>
</g>
<g clip-path="url(#c21)">
<path d="M563.55,229.50H809.80" stroke="#000" stroke-width="1.15" stroke-dasharray="5.8 10.95"/>
<polygon points="580.00,321.00 599.00,246.00 618.00,214.60 648.00,207.50 675.00,206.10 712.00,204.70 732.00,203.50 779.00,200.50 779.00,203.50 732.00,206.50 712.00,207.70 675.00,209.10 648.00,210.50 618.00,220.60 599.00,268.00 580.00,333.00" fill="#D53E58" fill-opacity="0.2" stroke="#D53E58" stroke-opacity="0.25" stroke-width="0.8"/>
<polyline points="580.00,327.00 599.00,257.00 618.00,217.60 648.00,209.00 675.00,207.60 712.00,206.20 732.00,205.00 779.00,202.00" fill="none" stroke="#D53E58" stroke-width="2.2" stroke-dasharray="10.2 2.6 2 2.6"/>
<circle cx="580.00" cy="322.00" r="3.2" fill="#D53E58"/>
<circle cx="580.00" cy="332.00" r="3.2" fill="#D53E58"/>
<circle cx="599.00" cy="245.60" r="3.2" fill="#D53E58"/>
<circle cx="599.00" cy="258.00" r="3.2" fill="#D53E58"/>
<circle cx="599.00" cy="269.00" r="3.2" fill="#D53E58"/>
<circle cx="618.00" cy="217.60" r="3.2" fill="#D53E58"/>
<circle cx="648.00" cy="209.00" r="3.2" fill="#D53E58"/>
<circle cx="675.00" cy="207.60" r="3.2" fill="#D53E58"/>
<circle cx="712.00" cy="206.20" r="3.2" fill="#D53E58"/>
<circle cx="732.00" cy="205.00" r="3.2" fill="#D53E58"/>
<circle cx="779.00" cy="202.00" r="3.2" fill="#D53E58"/>
<path d="M563.50,218.00L809.80,197.95" stroke="#D53E58" stroke-width="1.7" stroke-dasharray="1.7 2.5"/>
<polygon points="580.00,325.50 599.00,213.50 618.00,200.50 648.00,197.50 676.00,196.50 714.00,195.50 733.00,195.50 780.00,193.50 780.00,196.50 733.00,198.50 714.00,198.50 676.00,199.50 648.00,200.50 618.00,203.50 599.00,216.50 580.00,328.50" fill="#800080" fill-opacity="0.2" stroke="#800080" stroke-opacity="0.25" stroke-width="0.8"/>
<polyline points="580.00,327.00 599.00,215.00 618.00,202.00 648.00,199.00 676.00,198.00 714.00,197.00 733.00,197.00 780.00,195.00" fill="none" stroke="#800080" stroke-width="2.2" stroke-dasharray="10.2 2.6 2 2.6"/>
<polygon points="580.00,323.20 580.94,325.71 583.61,325.83 581.52,327.49 582.23,330.07 580.00,328.60 577.77,330.07 578.48,327.49 576.39,325.83 579.06,325.71" fill="#800080"/>
<polygon points="599.00,211.20 599.94,213.71 602.61,213.83 600.52,215.49 601.23,218.07 599.00,216.60 596.77,218.07 597.48,215.49 595.39,213.83 598.06,213.71" fill="#800080"/>
<polygon points="618.00,198.20 618.94,200.71 621.61,200.83 619.52,202.49 620.23,205.07 618.00,203.60 615.77,205.07 616.48,202.49 614.39,200.83 617.06,200.71" fill="#800080"/>
<polygon points="648.00,195.20 648.94,197.71 651.61,197.83 649.52,199.49 650.23,202.07 648.00,200.60 645.77,202.07 646.48,199.49 644.39,197.83 647.06,197.71" fill="#800080"/>
<polygon points="676.00,194.20 676.94,196.71 679.61,196.83 677.52,198.49 678.23,201.07 676.00,199.60 673.77,201.07 674.48,198.49 672.39,196.83 675.06,196.71" fill="#800080"/>
<polygon points="714.00,193.20 714.94,195.71 717.61,195.83 715.52,197.49 716.23,200.07 714.00,198.60 711.77,200.07 712.48,197.49 710.39,195.83 713.06,195.71" fill="#800080"/>
<polygon points="733.00,193.20 733.94,195.71 736.61,195.83 734.52,197.49 735.23,200.07 733.00,198.60 730.77,200.07 731.48,197.49 729.39,195.83 732.06,195.71" fill="#800080"/>
<polygon points="780.00,191.20 780.94,193.71 783.61,193.83 781.52,195.49 782.23,198.07 780.00,196.60 777.77,198.07 778.48,195.49 776.39,193.83 779.06,193.71" fill="#800080"/>
<path d="M563.50,203.00L809.80,191.55" stroke="#800080" stroke-width="1.7" stroke-dasharray="1.7 2.5"/>
<polygon points="571.00,216.50 599.00,208.50 618.00,205.00 648.00,201.00 676.00,198.00 714.00,197.00 733.00,196.00 762.00,193.00 762.00,197.00 733.00,200.00 714.00,201.00 676.00,202.00 648.00,205.00 618.00,209.00 599.00,212.50 571.00,220.50" fill="#4C72B0" fill-opacity="0.2" stroke="#4C72B0" stroke-opacity="0.25" stroke-width="0.8"/>
<polyline points="571.00,218.50 599.00,210.50 618.00,207.00 648.00,203.00 676.00,200.00 714.00,199.00 733.00,198.00 762.00,195.00" fill="none" stroke="#4C72B0" stroke-width="2.2" stroke-dasharray="10.2 2.6 2 2.6"/>
<path d="M568.60,212.60L573.40,217.40M568.60,217.40L573.40,212.60" stroke="#4C72B0" stroke-width="1.6"/>
<path d="M568.60,219.60L573.40,224.40M568.60,224.40L573.40,219.60" stroke="#4C72B0" stroke-width="1.6"/>
<path d="M596.60,206.60L601.40,211.40M596.60,211.40L601.40,206.60" stroke="#4C72B0" stroke-width="1.6"/>
<path d="M596.60,209.60L601.40,214.40M596.60,214.40L601.40,209.60" stroke="#4C72B0" stroke-width="1.6"/>
<path d="M615.60,204.60L620.40,209.40M615.60,209.40L620.40,204.60" stroke="#4C72B0" stroke-width="1.6"/>
<path d="M645.60,200.60L650.40,205.40M645.60,205.40L650.40,200.60" stroke="#4C72B0" stroke-width="1.6"/>
<path d="M673.60,197.60L678.40,202.40M673.60,202.40L678.40,197.60" stroke="#4C72B0" stroke-width="1.6"/>
<path d="M711.60,196.60L716.40,201.40M711.60,201.40L716.40,196.60" stroke="#4C72B0" stroke-width="1.6"/>
<path d="M730.60,195.60L735.40,200.40M730.60,200.40L735.40,195.60" stroke="#4C72B0" stroke-width="1.6"/>
<path d="M759.60,192.60L764.40,197.40M759.60,197.40L764.40,192.60" stroke="#4C72B0" stroke-width="1.6"/>
<path d="M563.50,209.00L809.80,189.67" stroke="#4C72B0" stroke-width="1.7" stroke-dasharray="1.7 2.5"/>
<polygon points="575.00,204.00 598.50,201.00 621.00,196.90 648.00,196.10 676.00,195.50 714.00,195.00 729.00,192.90 777.00,195.00 777.00,198.00 729.00,195.90 714.00,198.00 676.00,198.50 648.00,199.10 621.00,199.90 598.50,204.00 575.00,207.00" fill="#008000" fill-opacity="0.2" stroke="#008000" stroke-opacity="0.25" stroke-width="0.8"/>
<polyline points="575.00,205.50 598.50,202.50 621.00,198.40 648.00,197.60 676.00,197.00 714.00,196.50 729.00,194.40 777.00,196.50" fill="none" stroke="#008000" stroke-width="2.2" stroke-dasharray="10.2 2.6 2 2.6"/>
<polygon points="575.00,199.40 577.50,204.00 575.00,208.60 572.50,204.00" fill="#008000"/>
<polygon points="575.00,202.40 577.50,207.00 575.00,211.60 572.50,207.00" fill="#008000"/>
<polygon points="598.50,196.40 601.00,201.00 598.50,205.60 596.00,201.00" fill="#008000"/>
<polygon points="598.50,199.40 601.00,204.00 598.50,208.60 596.00,204.00" fill="#008000"/>
<polygon points="621.00,193.80 623.50,198.40 621.00,203.00 618.50,198.40" fill="#008000"/>
<polygon points="648.00,193.00 650.50,197.60 648.00,202.20 645.50,197.60" fill="#008000"/>
<polygon points="676.00,192.40 678.50,197.00 676.00,201.60 673.50,197.00" fill="#008000"/>
<polygon points="714.00,189.80 716.50,194.40 714.00,199.00 711.50,194.40" fill="#008000"/>
<polygon points="714.00,194.40 716.50,199.00 714.00,203.60 711.50,199.00" fill="#008000"/>
<polygon points="729.00,189.80 731.50,194.40 729.00,199.00 726.50,194.40" fill="#008000"/>
<polygon points="777.00,190.40 779.50,195.00 777.00,199.60 774.50,195.00" fill="#008000"/>
<polygon points="777.00,193.40 779.50,198.00 777.00,202.60 774.50,198.00" fill="#008000"/>
<path d="M563.50,201.40L809.80,193.17" stroke="#008000" stroke-width="1.7" stroke-dasharray="1.7 2.5"/>
<polygon points="584.50,324.00 630.00,324.00 646.00,323.00 677.00,265.00 704.00,235.00 739.00,213.00 760.00,207.00 760.00,212.00 739.00,218.00 704.00,273.00 677.00,313.00 646.00,327.00 630.00,329.00 584.50,330.00" fill="#FFA500" fill-opacity="0.2" stroke="#FFA500" stroke-opacity="0.25" stroke-width="0.8"/>
<polyline points="584.50,327.00 630.00,327.00 646.00,326.00 677.00,289.00 704.00,254.00 739.00,215.50 760.00,210.00" fill="none" stroke="#FFA500" stroke-width="2.2" stroke-dasharray="10.2 2.6 2 2.6"/>
<polygon points="584.50,320.40 587.00,325.00 584.50,329.60 582.00,325.00" fill="#FFA500"/>
<polygon points="584.50,324.40 587.00,329.00 584.50,333.60 582.00,329.00" fill="#FFA500"/>
<polygon points="630.00,321.40 632.50,326.00 630.00,330.60 627.50,326.00" fill="#FFA500"/>
<polygon points="646.00,321.40 648.50,326.00 646.00,330.60 643.50,326.00" fill="#FFA500"/>
<polygon points="677.00,252.40 679.50,257.00 677.00,261.60 674.50,257.00" fill="#FFA500"/>
<polygon points="677.00,296.40 679.50,301.00 677.00,305.60 674.50,301.00" fill="#FFA500"/>
<polygon points="677.00,304.40 679.50,309.00 677.00,313.60 674.50,309.00" fill="#FFA500"/>
<polygon points="704.00,221.20 706.50,225.80 704.00,230.40 701.50,225.80" fill="#FFA500"/>
<polygon points="704.00,263.90 706.50,268.50 704.00,273.10 701.50,268.50" fill="#FFA500"/>
<polygon points="739.00,210.40 741.50,215.00 739.00,219.60 736.50,215.00" fill="#FFA500"/>
<polygon points="760.00,203.40 762.50,208.00 760.00,212.60 757.50,208.00" fill="#FFA500"/>
<polygon points="760.00,206.40 762.50,211.00 760.00,215.60 757.50,211.00" fill="#FFA500"/>
<path d="M563.50,400.03L809.80,149.30" stroke="#FFA500" stroke-width="1.7" stroke-dasharray="1.7 2.5"/>
</g>
<path d="M61.30,175.50v2.2 M71.25,175.50v2.2 M79.39,175.50v2.2 M86.26,175.50v2.2 M92.22,175.50v2.2 M97.47,175.50v2.2 M102.17,175.50v4 M133.09,175.50v2.2 M151.18,175.50v2.2 M164.01,175.50v2.2 M173.97,175.50v2.2 M182.10,175.50v2.2 M188.98,175.50v2.2 M194.93,175.50v2.2 M200.19,175.50v2.2 M204.89,175.50v4 M235.81,175.50v2.2 M253.89,175.50v2.2 M266.73,175.50v2.2 M276.68,175.50v2.2 M284.81,175.50v2.2 M291.69,175.50v2.2 M297.65,175.50v2.2 M302.90,175.50v2.2 M307.60,175.50v4 M57.30,27.45h4 M57.30,76.80h4 M57.30,126.20h4 M57.30,175.50h4" stroke="#000" stroke-width="0.9" fill="none"/>
<rect x="61.30" y="25.20" width="246.30" height="150.30" fill="none" stroke="#000" stroke-width="0.9"/>
<path d="M312.50,175.50v2.2 M322.45,175.50v2.2 M330.59,175.50v2.2 M337.46,175.50v2.2 M343.42,175.50v2.2 M348.67,175.50v2.2 M353.37,175.50v4 M384.29,175.50v2.2 M402.38,175.50v2.2 M415.21,175.50v2.2 M425.17,175.50v2.2 M433.30,175.50v2.2 M440.18,175.50v2.2 M446.13,175.50v2.2 M451.39,175.50v2.2 M456.09,175.50v4 M487.01,175.50v2.2 M505.09,175.50v2.2 M517.93,175.50v2.2 M527.88,175.50v2.2 M536.01,175.50v2.2 M542.89,175.50v2.2 M548.85,175.50v2.2 M554.10,175.50v2.2 M558.80,175.50v4 M308.50,27.45h4 M308.50,76.80h4 M308.50,126.20h4 M308.50,175.50h4" stroke="#000" stroke-width="0.9" fill="none"/>
<rect x="312.50" y="25.20" width="246.30" height="150.30" fill="none" stroke="#000" stroke-width="0.9"/>
<path d="M563.50,175.50v2.2 M573.45,175.50v2.2 M581.59,175.50v2.2 M588.46,175.50v2.2 M594.42,175.50v2.2 M599.67,175.50v2.2 M604.37,175.50v4 M635.29,175.50v2.2 M653.38,175.50v2.2 M666.21,175.50v2.2 M676.17,175.50v2.2 M684.30,175.50v2.2 M691.18,175.50v2.2 M697.13,175.50v2.2 M702.39,175.50v2.2 M707.09,175.50v4 M738.01,175.50v2.2 M756.09,175.50v2.2 M768.93,175.50v2.2 M778.88,175.50v2.2 M787.01,175.50v2.2 M793.89,175.50v2.2 M799.85,175.50v2.2 M805.10,175.50v2.2 M809.80,175.50v4 M559.50,27.45h4 M559.50,76.80h4 M559.50,126.20h4 M559.50,175.50h4" stroke="#000" stroke-width="0.9" fill="none"/>
<rect x="563.50" y="25.20" width="246.30" height="150.30" fill="none" stroke="#000" stroke-width="0.9"/>
<path d="M61.30,335.30v2.2 M71.25,335.30v2.2 M79.39,335.30v2.2 M86.26,335.30v2.2 M92.22,335.30v2.2 M97.47,335.30v2.2 M102.17,335.30v4 M133.09,335.30v2.2 M151.18,335.30v2.2 M164.01,335.30v2.2 M173.97,335.30v2.2 M182.10,335.30v2.2 M188.98,335.30v2.2 M194.93,335.30v2.2 M200.19,335.30v2.2 M204.89,335.30v4 M235.81,335.30v2.2 M253.89,335.30v2.2 M266.73,335.30v2.2 M276.68,335.30v2.2 M284.81,335.30v2.2 M291.69,335.30v2.2 M297.65,335.30v2.2 M302.90,335.30v2.2 M307.60,335.30v4 M57.30,186.00h4 M57.30,223.30h4 M57.30,260.60h4 M57.30,297.90h4 M57.30,335.30h4" stroke="#000" stroke-width="0.9" fill="none"/>
<rect x="61.30" y="184.80" width="246.30" height="150.50" fill="none" stroke="#000" stroke-width="0.9"/>
<path d="M312.50,335.30v2.2 M322.45,335.30v2.2 M330.59,335.30v2.2 M337.46,335.30v2.2 M343.42,335.30v2.2 M348.67,335.30v2.2 M353.37,335.30v4 M384.29,335.30v2.2 M402.38,335.30v2.2 M415.21,335.30v2.2 M425.17,335.30v2.2 M433.30,335.30v2.2 M440.18,335.30v2.2 M446.13,335.30v2.2 M451.39,335.30v2.2 M456.09,335.30v4 M487.01,335.30v2.2 M505.09,335.30v2.2 M517.93,335.30v2.2 M527.88,335.30v2.2 M536.01,335.30v2.2 M542.89,335.30v2.2 M548.85,335.30v2.2 M554.10,335.30v2.2 M558.80,335.30v4 M308.50,186.00h4 M308.50,223.30h4 M308.50,260.60h4 M308.50,297.90h4 M308.50,335.30h4" stroke="#000" stroke-width="0.9" fill="none"/>
<rect x="312.50" y="184.80" width="246.30" height="150.50" fill="none" stroke="#000" stroke-width="0.9"/>
<path d="M563.50,335.30v2.2 M573.45,335.30v2.2 M581.59,335.30v2.2 M588.46,335.30v2.2 M594.42,335.30v2.2 M599.67,335.30v2.2 M604.37,335.30v4 M635.29,335.30v2.2 M653.38,335.30v2.2 M666.21,335.30v2.2 M676.17,335.30v2.2 M684.30,335.30v2.2 M691.18,335.30v2.2 M697.13,335.30v2.2 M702.39,335.30v2.2 M707.09,335.30v4 M738.01,335.30v2.2 M756.09,335.30v2.2 M768.93,335.30v2.2 M778.88,335.30v2.2 M787.01,335.30v2.2 M793.89,335.30v2.2 M799.85,335.30v2.2 M805.10,335.30v2.2 M809.80,335.30v4 M559.50,186.00h4 M559.50,223.30h4 M559.50,260.60h4 M559.50,297.90h4 M559.50,335.30h4" stroke="#000" stroke-width="0.9" fill="none"/>
<rect x="563.50" y="184.80" width="246.30" height="150.50" fill="none" stroke="#000" stroke-width="0.9"/>
<text x="126.5" y="18.5" font-size="16.6" text-anchor="start" textLength="116.5" lengthAdjust="spacingAndGlyphs" stroke="#000" stroke-width="0.3">Baseline Test Set</text>
<text x="352" y="18.5" font-size="16.6" text-anchor="start" textLength="167" lengthAdjust="spacingAndGlyphs" stroke="#000" stroke-width="0.3">Parametric Variation Set</text>
<text x="635" y="18.5" font-size="16.6" text-anchor="start" textLength="103.5" lengthAdjust="spacingAndGlyphs" stroke="#000" stroke-width="0.3">Forced HIT Set</text>
<text x="33.2" y="32.75" font-size="16" text-anchor="start" textLength="20" lengthAdjust="spacingAndGlyphs" stroke="#000" stroke-width="0.35">1.0</text>
<text x="33.2" y="82.1" font-size="16" text-anchor="start" textLength="20" lengthAdjust="spacingAndGlyphs" stroke="#000" stroke-width="0.35">0.8</text>
<text x="33.2" y="131.5" font-size="16" text-anchor="start" textLength="20" lengthAdjust="spacingAndGlyphs" stroke="#000" stroke-width="0.35">0.6</text>
<text x="33.2" y="180.8" font-size="16" text-anchor="start" textLength="20" lengthAdjust="spacingAndGlyphs" stroke="#000" stroke-width="0.35">0.4</text>
<text x="24.2" y="191.3" font-size="16" text-anchor="start" textLength="29" lengthAdjust="spacingAndGlyphs" stroke="#000" stroke-width="0.35">1.00</text>
<text x="24.2" y="228.60000000000002" font-size="16" text-anchor="start" textLength="29" lengthAdjust="spacingAndGlyphs" stroke="#000" stroke-width="0.35">0.75</text>
<text x="24.2" y="265.90000000000003" font-size="16" text-anchor="start" textLength="29" lengthAdjust="spacingAndGlyphs" stroke="#000" stroke-width="0.35">0.50</text>
<text x="24.2" y="303.2" font-size="16" text-anchor="start" textLength="29" lengthAdjust="spacingAndGlyphs" stroke="#000" stroke-width="0.35">0.25</text>
<text x="24.2" y="340.6" font-size="16" text-anchor="start" textLength="29" lengthAdjust="spacingAndGlyphs" stroke="#000" stroke-width="0.35">0.00</text>
<text x="90.17" y="353.6" font-size="16.5" stroke="#000" stroke-width="0.35" textLength="16.2" lengthAdjust="spacingAndGlyphs">10</text>
<text x="107.37" y="348.7" font-size="11.5" stroke="#000" stroke-width="0.35" textLength="5.4" lengthAdjust="spacingAndGlyphs">6</text>
<text x="192.89" y="353.6" font-size="16.5" stroke="#000" stroke-width="0.35" textLength="16.2" lengthAdjust="spacingAndGlyphs">10</text>
<text x="210.09" y="348.7" font-size="11.5" stroke="#000" stroke-width="0.35" textLength="5.4" lengthAdjust="spacingAndGlyphs">7</text>
<text x="295.60" y="353.6" font-size="16.5" stroke="#000" stroke-width="0.35" textLength="16.2" lengthAdjust="spacingAndGlyphs">10</text>
<text x="312.80" y="348.7" font-size="11.5" stroke="#000" stroke-width="0.35" textLength="5.4" lengthAdjust="spacingAndGlyphs">8</text>
<text x="341.37" y="353.6" font-size="16.5" stroke="#000" stroke-width="0.35" textLength="16.2" lengthAdjust="spacingAndGlyphs">10</text>
<text x="358.57" y="348.7" font-size="11.5" stroke="#000" stroke-width="0.35" textLength="5.4" lengthAdjust="spacingAndGlyphs">6</text>
<text x="444.09" y="353.6" font-size="16.5" stroke="#000" stroke-width="0.35" textLength="16.2" lengthAdjust="spacingAndGlyphs">10</text>
<text x="461.29" y="348.7" font-size="11.5" stroke="#000" stroke-width="0.35" textLength="5.4" lengthAdjust="spacingAndGlyphs">7</text>
<text x="546.80" y="353.6" font-size="16.5" stroke="#000" stroke-width="0.35" textLength="16.2" lengthAdjust="spacingAndGlyphs">10</text>
<text x="564.00" y="348.7" font-size="11.5" stroke="#000" stroke-width="0.35" textLength="5.4" lengthAdjust="spacingAndGlyphs">8</text>
<text x="592.37" y="353.6" font-size="16.5" stroke="#000" stroke-width="0.35" textLength="16.2" lengthAdjust="spacingAndGlyphs">10</text>
<text x="609.57" y="348.7" font-size="11.5" stroke="#000" stroke-width="0.35" textLength="5.4" lengthAdjust="spacingAndGlyphs">6</text>
<text x="695.09" y="353.6" font-size="16.5" stroke="#000" stroke-width="0.35" textLength="16.2" lengthAdjust="spacingAndGlyphs">10</text>
<text x="712.29" y="348.7" font-size="11.5" stroke="#000" stroke-width="0.35" textLength="5.4" lengthAdjust="spacingAndGlyphs">7</text>
<text x="797.80" y="353.6" font-size="16.5" stroke="#000" stroke-width="0.35" textLength="16.2" lengthAdjust="spacingAndGlyphs">10</text>
<text x="815.00" y="348.7" font-size="11.5" stroke="#000" stroke-width="0.35" textLength="5.4" lengthAdjust="spacingAndGlyphs">8</text>
<text x="338.6" y="366.8" font-size="15.6" stroke="#000" stroke-width="0.3" lengthAdjust="spacingAndGlyphs" textLength="155.4">Number of Parameters</text>
<text x="498.2" y="366.8" font-size="15.6" font-style="italic" stroke="#000" stroke-width="0.3" lengthAdjust="spacingAndGlyphs" textLength="10.4">N</text>
<text x="506.8" y="369" font-size="10.5" font-style="italic" stroke="#000" stroke-width="0.3" lengthAdjust="spacingAndGlyphs" textLength="5.4">p</text>
<text x="517.4" y="366.8" font-size="15.6" stroke="#000" stroke-width="0.3" lengthAdjust="spacingAndGlyphs" textLength="14.2">[-]</text>
<text transform="translate(27,141.6) rotate(-90)" font-size="16.6" stroke="#000" stroke-width="0.35" textLength="81.5" lengthAdjust="spacingAndGlyphs"><tspan font-size="18">↑</tspan> SSIM<tspan font-style="italic" font-size="10.5" dy="3">ρ,</tspan><tspan font-weight="bold" font-size="10.5">u</tspan><tspan dy="-3"> [-]</tspan></text>
<text transform="translate(18.5,299.8) rotate(-90)" font-size="16.6" stroke="#000" stroke-width="0.35" textLength="79.5" lengthAdjust="spacingAndGlyphs"><tspan font-size="18">↑</tspan> SSIM<tspan font-style="italic" font-size="10.5" dy="3">sgs</tspan><tspan dy="-3"> [-]</tspan></text>
<path d="M225.10,118.80C222.90,118.80 221.20,123.50 219.70,123.50C218.60,123.50 218.40,122.20 218.40,121.15C218.40,120.10 218.60,118.80 219.70,118.80C221.20,118.80 222.90,123.50 225.10,123.50" fill="none" stroke="#D53E58" stroke-width="1.05"/>
<text x="227.70" y="123.90" font-size="12" textLength="41.5" fill="#D53E58" stroke="#D53E58" stroke-width="0.3" lengthAdjust="spacingAndGlyphs">3.5e-02</text>
<text x="269.80" y="123.90" font-size="11.3" textLength="13.6" fill="#D53E58" stroke="#D53E58" stroke-width="0.3" lengthAdjust="spacingAndGlyphs">log</text>
<text x="284.70" y="125.50" font-size="8.8" textLength="6.7" fill="#D53E58" stroke="#D53E58" stroke-width="0.3" lengthAdjust="spacingAndGlyphs">10</text>
<text x="292.80" y="123.90" font-size="12" font-style="italic" textLength="8.4" fill="#D53E58" stroke="#D53E58" stroke-width="0.3" lengthAdjust="spacingAndGlyphs">N</text>
<text x="300.60" y="125.70" font-size="8.5" font-style="italic" textLength="4.6" fill="#D53E58" stroke="#D53E58" stroke-width="0.3" lengthAdjust="spacingAndGlyphs">p</text>
<path d="M225.10,130.80C222.90,130.80 221.20,135.50 219.70,135.50C218.60,135.50 218.40,134.20 218.40,133.15C218.40,132.10 218.60,130.80 219.70,130.80C221.20,130.80 222.90,135.50 225.10,135.50" fill="none" stroke="#800080" stroke-width="1.05"/>
<text x="227.70" y="135.90" font-size="12" textLength="41.5" fill="#800080" stroke="#800080" stroke-width="0.3" lengthAdjust="spacingAndGlyphs">3.4e-02</text>
<text x="269.80" y="135.90" font-size="11.3" textLength="13.6" fill="#800080" stroke="#800080" stroke-width="0.3" lengthAdjust="spacingAndGlyphs">log</text>
<text x="284.70" y="137.50" font-size="8.8" textLength="6.7" fill="#800080" stroke="#800080" stroke-width="0.3" lengthAdjust="spacingAndGlyphs">10</text>
<text x="292.80" y="135.90" font-size="12" font-style="italic" textLength="8.4" fill="#800080" stroke="#800080" stroke-width="0.3" lengthAdjust="spacingAndGlyphs">N</text>
<text x="300.60" y="137.70" font-size="8.5" font-style="italic" textLength="4.6" fill="#800080" stroke="#800080" stroke-width="0.3" lengthAdjust="spacingAndGlyphs">p</text>
<path d="M225.10,142.80C222.90,142.80 221.20,147.50 219.70,147.50C218.60,147.50 218.40,146.20 218.40,145.15C218.40,144.10 218.60,142.80 219.70,142.80C221.20,142.80 222.90,147.50 225.10,147.50" fill="none" stroke="#4C72B0" stroke-width="1.05"/>
<text x="227.70" y="147.90" font-size="12" textLength="41.5" fill="#4C72B0" stroke="#4C72B0" stroke-width="0.3" lengthAdjust="spacingAndGlyphs">5.0e-02</text>
<text x="269.80" y="147.90" font-size="11.3" textLength="13.6" fill="#4C72B0" stroke="#4C72B0" stroke-width="0.3" lengthAdjust="spacingAndGlyphs">log</text>
<text x="284.70" y="149.50" font-size="8.8" textLength="6.7" fill="#4C72B0" stroke="#4C72B0" stroke-width="0.3" lengthAdjust="spacingAndGlyphs">10</text>
<text x="292.80" y="147.90" font-size="12" font-style="italic" textLength="8.4" fill="#4C72B0" stroke="#4C72B0" stroke-width="0.3" lengthAdjust="spacingAndGlyphs">N</text>
<text x="300.60" y="149.70" font-size="8.5" font-style="italic" textLength="4.6" fill="#4C72B0" stroke="#4C72B0" stroke-width="0.3" lengthAdjust="spacingAndGlyphs">p</text>
<path d="M225.10,154.80C222.90,154.80 221.20,159.50 219.70,159.50C218.60,159.50 218.40,158.20 218.40,157.15C218.40,156.10 218.60,154.80 219.70,154.80C221.20,154.80 222.90,159.50 225.10,159.50" fill="none" stroke="#008000" stroke-width="1.05"/>
<text x="227.70" y="159.90" font-size="12" textLength="41.5" fill="#008000" stroke="#008000" stroke-width="0.3" lengthAdjust="spacingAndGlyphs">2.0e-02</text>
<text x="269.80" y="159.90" font-size="11.3" textLength="13.6" fill="#008000" stroke="#008000" stroke-width="0.3" lengthAdjust="spacingAndGlyphs">log</text>
<text x="284.70" y="161.50" font-size="8.8" textLength="6.7" fill="#008000" stroke="#008000" stroke-width="0.3" lengthAdjust="spacingAndGlyphs">10</text>
<text x="292.80" y="159.90" font-size="12" font-style="italic" textLength="8.4" fill="#008000" stroke="#008000" stroke-width="0.3" lengthAdjust="spacingAndGlyphs">N</text>
<text x="300.60" y="161.70" font-size="8.5" font-style="italic" textLength="4.6" fill="#008000" stroke="#008000" stroke-width="0.3" lengthAdjust="spacingAndGlyphs">p</text>
<path d="M225.10,166.80C222.90,166.80 221.20,171.50 219.70,171.50C218.60,171.50 218.40,170.20 218.40,169.15C218.40,168.10 218.60,166.80 219.70,166.80C221.20,166.80 222.90,171.50 225.10,171.50" fill="none" stroke="#FFA500" stroke-width="1.05"/>
<text x="227.70" y="171.90" font-size="12" textLength="41.5" fill="#FFA500" stroke="#FFA500" stroke-width="0.3" lengthAdjust="spacingAndGlyphs">3.4e-01</text>
<text x="269.80" y="171.90" font-size="11.3" textLength="13.6" fill="#FFA500" stroke="#FFA500" stroke-width="0.3" lengthAdjust="spacingAndGlyphs">log</text>
<text x="284.70" y="173.50" font-size="8.8" textLength="6.7" fill="#FFA500" stroke="#FFA500" stroke-width="0.3" lengthAdjust="spacingAndGlyphs">10</text>
<text x="292.80" y="171.90" font-size="12" font-style="italic" textLength="8.4" fill="#FFA500" stroke="#FFA500" stroke-width="0.3" lengthAdjust="spacingAndGlyphs">N</text>
<text x="300.60" y="173.70" font-size="8.5" font-style="italic" textLength="4.6" fill="#FFA500" stroke="#FFA500" stroke-width="0.3" lengthAdjust="spacingAndGlyphs">p</text>
<path d="M476.30,118.80C474.10,118.80 472.40,123.50 470.90,123.50C469.80,123.50 469.60,122.20 469.60,121.15C469.60,120.10 469.80,118.80 470.90,118.80C472.40,118.80 474.10,123.50 476.30,123.50" fill="none" stroke="#D53E58" stroke-width="1.05"/>
<text x="478.90" y="123.90" font-size="12" textLength="41.5" fill="#D53E58" stroke="#D53E58" stroke-width="0.3" lengthAdjust="spacingAndGlyphs">3.3e-02</text>
<text x="521.00" y="123.90" font-size="11.3" textLength="13.6" fill="#D53E58" stroke="#D53E58" stroke-width="0.3" lengthAdjust="spacingAndGlyphs">log</text>
<text x="535.90" y="125.50" font-size="8.8" textLength="6.7" fill="#D53E58" stroke="#D53E58" stroke-width="0.3" lengthAdjust="spacingAndGlyphs">10</text>
<text x="544.00" y="123.90" font-size="12" font-style="italic" textLength="8.4" fill="#D53E58" stroke="#D53E58" stroke-width="0.3" lengthAdjust="spacingAndGlyphs">N</text>
<text x="551.80" y="125.70" font-size="8.5" font-style="italic" textLength="4.6" fill="#D53E58" stroke="#D53E58" stroke-width="0.3" lengthAdjust="spacingAndGlyphs">p</text>
<path d="M476.30,130.80C474.10,130.80 472.40,135.50 470.90,135.50C469.80,135.50 469.60,134.20 469.60,133.15C469.60,132.10 469.80,130.80 470.90,130.80C472.40,130.80 474.10,135.50 476.30,135.50" fill="none" stroke="#800080" stroke-width="1.05"/>
<text x="478.90" y="135.90" font-size="12" textLength="41.5" fill="#800080" stroke="#800080" stroke-width="0.3" lengthAdjust="spacingAndGlyphs">3.1e-02</text>
<text x="521.00" y="135.90" font-size="11.3" textLength="13.6" fill="#800080" stroke="#800080" stroke-width="0.3" lengthAdjust="spacingAndGlyphs">log</text>
<text x="535.90" y="137.50" font-size="8.8" textLength="6.7" fill="#800080" stroke="#800080" stroke-width="0.3" lengthAdjust="spacingAndGlyphs">10</text>
<text x="544.00" y="135.90" font-size="12" font-style="italic" textLength="8.4" fill="#800080" stroke="#800080" stroke-width="0.3" lengthAdjust="spacingAndGlyphs">N</text>
<text x="551.80" y="137.70" font-size="8.5" font-style="italic" textLength="4.6" fill="#800080" stroke="#800080" stroke-width="0.3" lengthAdjust="spacingAndGlyphs">p</text>
<path d="M476.30,142.80C474.10,142.80 472.40,147.50 470.90,147.50C469.80,147.50 469.60,146.20 469.60,145.15C469.60,144.10 469.80,142.80 470.90,142.80C472.40,142.80 474.10,147.50 476.30,147.50" fill="none" stroke="#4C72B0" stroke-width="1.05"/>
<text x="478.90" y="147.90" font-size="12" textLength="41.5" fill="#4C72B0" stroke="#4C72B0" stroke-width="0.3" lengthAdjust="spacingAndGlyphs">4.2e-02</text>
<text x="521.00" y="147.90" font-size="11.3" textLength="13.6" fill="#4C72B0" stroke="#4C72B0" stroke-width="0.3" lengthAdjust="spacingAndGlyphs">log</text>
<text x="535.90" y="149.50" font-size="8.8" textLength="6.7" fill="#4C72B0" stroke="#4C72B0" stroke-width="0.3" lengthAdjust="spacingAndGlyphs">10</text>
<text x="544.00" y="147.90" font-size="12" font-style="italic" textLength="8.4" fill="#4C72B0" stroke="#4C72B0" stroke-width="0.3" lengthAdjust="spacingAndGlyphs">N</text>
<text x="551.80" y="149.70" font-size="8.5" font-style="italic" textLength="4.6" fill="#4C72B0" stroke="#4C72B0" stroke-width="0.3" lengthAdjust="spacingAndGlyphs">p</text>
<path d="M476.30,154.80C474.10,154.80 472.40,159.50 470.90,159.50C469.80,159.50 469.60,158.20 469.60,157.15C469.60,156.10 469.80,154.80 470.90,154.80C472.40,154.80 474.10,159.50 476.30,159.50" fill="none" stroke="#008000" stroke-width="1.05"/>
<text x="478.90" y="159.90" font-size="12" textLength="41.5" fill="#008000" stroke="#008000" stroke-width="0.3" lengthAdjust="spacingAndGlyphs">1.7e-02</text>
<text x="521.00" y="159.90" font-size="11.3" textLength="13.6" fill="#008000" stroke="#008000" stroke-width="0.3" lengthAdjust="spacingAndGlyphs">log</text>
<text x="535.90" y="161.50" font-size="8.8" textLength="6.7" fill="#008000" stroke="#008000" stroke-width="0.3" lengthAdjust="spacingAndGlyphs">10</text>
<text x="544.00" y="159.90" font-size="12" font-style="italic" textLength="8.4" fill="#008000" stroke="#008000" stroke-width="0.3" lengthAdjust="spacingAndGlyphs">N</text>
<text x="551.80" y="161.70" font-size="8.5" font-style="italic" textLength="4.6" fill="#008000" stroke="#008000" stroke-width="0.3" lengthAdjust="spacingAndGlyphs">p</text>
<path d="M476.30,166.80C474.10,166.80 472.40,171.50 470.90,171.50C469.80,171.50 469.60,170.20 469.60,169.15C469.60,168.10 469.80,166.80 470.90,166.80C472.40,166.80 474.10,171.50 476.30,171.50" fill="none" stroke="#FFA500" stroke-width="1.05"/>
<text x="478.90" y="171.90" font-size="12" textLength="41.5" fill="#FFA500" stroke="#FFA500" stroke-width="0.3" lengthAdjust="spacingAndGlyphs">3.3e-01</text>
<text x="521.00" y="171.90" font-size="11.3" textLength="13.6" fill="#FFA500" stroke="#FFA500" stroke-width="0.3" lengthAdjust="spacingAndGlyphs">log</text>
<text x="535.90" y="173.50" font-size="8.8" textLength="6.7" fill="#FFA500" stroke="#FFA500" stroke-width="0.3" lengthAdjust="spacingAndGlyphs">10</text>
<text x="544.00" y="171.90" font-size="12" font-style="italic" textLength="8.4" fill="#FFA500" stroke="#FFA500" stroke-width="0.3" lengthAdjust="spacingAndGlyphs">N</text>
<text x="551.80" y="173.70" font-size="8.5" font-style="italic" textLength="4.6" fill="#FFA500" stroke="#FFA500" stroke-width="0.3" lengthAdjust="spacingAndGlyphs">p</text>
<path d="M727.30,118.80C725.10,118.80 723.40,123.50 721.90,123.50C720.80,123.50 720.60,122.20 720.60,121.15C720.60,120.10 720.80,118.80 721.90,118.80C723.40,118.80 725.10,123.50 727.30,123.50" fill="none" stroke="#D53E58" stroke-width="1.05"/>
<text x="729.90" y="123.90" font-size="12" textLength="41.5" fill="#D53E58" stroke="#D53E58" stroke-width="0.3" lengthAdjust="spacingAndGlyphs">3.2e-03</text>
<text x="772.00" y="123.90" font-size="11.3" textLength="13.6" fill="#D53E58" stroke="#D53E58" stroke-width="0.3" lengthAdjust="spacingAndGlyphs">log</text>
<text x="786.90" y="125.50" font-size="8.8" textLength="6.7" fill="#D53E58" stroke="#D53E58" stroke-width="0.3" lengthAdjust="spacingAndGlyphs">10</text>
<text x="795.00" y="123.90" font-size="12" font-style="italic" textLength="8.4" fill="#D53E58" stroke="#D53E58" stroke-width="0.3" lengthAdjust="spacingAndGlyphs">N</text>
<text x="802.80" y="125.70" font-size="8.5" font-style="italic" textLength="4.6" fill="#D53E58" stroke="#D53E58" stroke-width="0.3" lengthAdjust="spacingAndGlyphs">p</text>
<path d="M727.30,130.80C725.10,130.80 723.40,135.50 721.90,135.50C720.80,135.50 720.60,134.20 720.60,133.15C720.60,132.10 720.80,130.80 721.90,130.80C723.40,130.80 725.10,135.50 727.30,135.50" fill="none" stroke="#800080" stroke-width="1.05"/>
<text x="729.90" y="135.90" font-size="12" textLength="41.5" fill="#800080" stroke="#800080" stroke-width="0.3" lengthAdjust="spacingAndGlyphs">1.5e-03</text>
<text x="772.00" y="135.90" font-size="11.3" textLength="13.6" fill="#800080" stroke="#800080" stroke-width="0.3" lengthAdjust="spacingAndGlyphs">log</text>
<text x="786.90" y="137.50" font-size="8.8" textLength="6.7" fill="#800080" stroke="#800080" stroke-width="0.3" lengthAdjust="spacingAndGlyphs">10</text>
<text x="795.00" y="135.90" font-size="12" font-style="italic" textLength="8.4" fill="#800080" stroke="#800080" stroke-width="0.3" lengthAdjust="spacingAndGlyphs">N</text>
<text x="802.80" y="137.70" font-size="8.5" font-style="italic" textLength="4.6" fill="#800080" stroke="#800080" stroke-width="0.3" lengthAdjust="spacingAndGlyphs">p</text>
<path d="M727.30,142.80C725.10,142.80 723.40,147.50 721.90,147.50C720.80,147.50 720.60,146.20 720.60,145.15C720.60,144.10 720.80,142.80 721.90,142.80C723.40,142.80 725.10,147.50 727.30,147.50" fill="none" stroke="#4C72B0" stroke-width="1.05"/>
<text x="729.90" y="147.90" font-size="12" textLength="41.5" fill="#4C72B0" stroke="#4C72B0" stroke-width="0.3" lengthAdjust="spacingAndGlyphs">2.4e-03</text>
<text x="772.00" y="147.90" font-size="11.3" textLength="13.6" fill="#4C72B0" stroke="#4C72B0" stroke-width="0.3" lengthAdjust="spacingAndGlyphs">log</text>
<text x="786.90" y="149.50" font-size="8.8" textLength="6.7" fill="#4C72B0" stroke="#4C72B0" stroke-width="0.3" lengthAdjust="spacingAndGlyphs">10</text>
<text x="795.00" y="147.90" font-size="12" font-style="italic" textLength="8.4" fill="#4C72B0" stroke="#4C72B0" stroke-width="0.3" lengthAdjust="spacingAndGlyphs">N</text>
<text x="802.80" y="149.70" font-size="8.5" font-style="italic" textLength="4.6" fill="#4C72B0" stroke="#4C72B0" stroke-width="0.3" lengthAdjust="spacingAndGlyphs">p</text>
<path d="M727.30,154.80C725.10,154.80 723.40,159.50 721.90,159.50C720.80,159.50 720.60,158.20 720.60,157.15C720.60,156.10 720.80,154.80 721.90,154.80C723.40,154.80 725.10,159.50 727.30,159.50" fill="none" stroke="#008000" stroke-width="1.05"/>
<text x="729.90" y="159.90" font-size="12" textLength="41.5" fill="#008000" stroke="#008000" stroke-width="0.3" lengthAdjust="spacingAndGlyphs">9.7e-04</text>
<text x="772.00" y="159.90" font-size="11.3" textLength="13.6" fill="#008000" stroke="#008000" stroke-width="0.3" lengthAdjust="spacingAndGlyphs">log</text>
<text x="786.90" y="161.50" font-size="8.8" textLength="6.7" fill="#008000" stroke="#008000" stroke-width="0.3" lengthAdjust="spacingAndGlyphs">10</text>
<text x="795.00" y="159.90" font-size="12" font-style="italic" textLength="8.4" fill="#008000" stroke="#008000" stroke-width="0.3" lengthAdjust="spacingAndGlyphs">N</text>
<text x="802.80" y="161.70" font-size="8.5" font-style="italic" textLength="4.6" fill="#008000" stroke="#008000" stroke-width="0.3" lengthAdjust="spacingAndGlyphs">p</text>
<path d="M727.30,166.80C725.10,166.80 723.40,171.50 721.90,171.50C720.80,171.50 720.60,170.20 720.60,169.15C720.60,168.10 720.80,166.80 721.90,166.80C723.40,166.80 725.10,171.50 727.30,171.50" fill="none" stroke="#FFA500" stroke-width="1.05"/>
<text x="729.90" y="171.90" font-size="12" textLength="41.5" fill="#FFA500" stroke="#FFA500" stroke-width="0.3" lengthAdjust="spacingAndGlyphs">4.5e-01</text>
<text x="772.00" y="171.90" font-size="11.3" textLength="13.6" fill="#FFA500" stroke="#FFA500" stroke-width="0.3" lengthAdjust="spacingAndGlyphs">log</text>
<text x="786.90" y="173.50" font-size="8.8" textLength="6.7" fill="#FFA500" stroke="#FFA500" stroke-width="0.3" lengthAdjust="spacingAndGlyphs">10</text>
<text x="795.00" y="171.90" font-size="12" font-style="italic" textLength="8.4" fill="#FFA500" stroke="#FFA500" stroke-width="0.3" lengthAdjust="spacingAndGlyphs">N</text>
<text x="802.80" y="173.70" font-size="8.5" font-style="italic" textLength="4.6" fill="#FFA500" stroke="#FFA500" stroke-width="0.3" lengthAdjust="spacingAndGlyphs">p</text>
<path d="M225.10,278.60C222.90,278.60 221.20,283.30 219.70,283.30C218.60,283.30 218.40,282.00 218.40,280.95C218.40,279.90 218.60,278.60 219.70,278.60C221.20,278.60 222.90,283.30 225.10,283.30" fill="none" stroke="#D53E58" stroke-width="1.05"/>
<text x="227.70" y="283.70" font-size="12" textLength="41.5" fill="#D53E58" stroke="#D53E58" stroke-width="0.3" lengthAdjust="spacingAndGlyphs">1.1e-01</text>
<text x="269.80" y="283.70" font-size="11.3" textLength="13.6" fill="#D53E58" stroke="#D53E58" stroke-width="0.3" lengthAdjust="spacingAndGlyphs">log</text>
<text x="284.70" y="285.30" font-size="8.8" textLength="6.7" fill="#D53E58" stroke="#D53E58" stroke-width="0.3" lengthAdjust="spacingAndGlyphs">10</text>
<text x="292.80" y="283.70" font-size="12" font-style="italic" textLength="8.4" fill="#D53E58" stroke="#D53E58" stroke-width="0.3" lengthAdjust="spacingAndGlyphs">N</text>
<text x="300.60" y="285.50" font-size="8.5" font-style="italic" textLength="4.6" fill="#D53E58" stroke="#D53E58" stroke-width="0.3" lengthAdjust="spacingAndGlyphs">p</text>
<path d="M225.10,290.60C222.90,290.60 221.20,295.30 219.70,295.30C218.60,295.30 218.40,294.00 218.40,292.95C218.40,291.90 218.60,290.60 219.70,290.60C221.20,290.60 222.90,295.30 225.10,295.30" fill="none" stroke="#800080" stroke-width="1.05"/>
<text x="227.70" y="295.70" font-size="12" textLength="41.5" fill="#800080" stroke="#800080" stroke-width="0.3" lengthAdjust="spacingAndGlyphs">7.7e-02</text>
<text x="269.80" y="295.70" font-size="11.3" textLength="13.6" fill="#800080" stroke="#800080" stroke-width="0.3" lengthAdjust="spacingAndGlyphs">log</text>
<text x="284.70" y="297.30" font-size="8.8" textLength="6.7" fill="#800080" stroke="#800080" stroke-width="0.3" lengthAdjust="spacingAndGlyphs">10</text>
<text x="292.80" y="295.70" font-size="12" font-style="italic" textLength="8.4" fill="#800080" stroke="#800080" stroke-width="0.3" lengthAdjust="spacingAndGlyphs">N</text>
<text x="300.60" y="297.50" font-size="8.5" font-style="italic" textLength="4.6" fill="#800080" stroke="#800080" stroke-width="0.3" lengthAdjust="spacingAndGlyphs">p</text>
<path d="M225.10,302.60C222.90,302.60 221.20,307.30 219.70,307.30C218.60,307.30 218.40,306.00 218.40,304.95C218.40,303.90 218.60,302.60 219.70,302.60C221.20,302.60 222.90,307.30 225.10,307.30" fill="none" stroke="#4C72B0" stroke-width="1.05"/>
<text x="227.70" y="307.70" font-size="12" textLength="41.5" fill="#4C72B0" stroke="#4C72B0" stroke-width="0.3" lengthAdjust="spacingAndGlyphs">1.3e-01</text>
<text x="269.80" y="307.70" font-size="11.3" textLength="13.6" fill="#4C72B0" stroke="#4C72B0" stroke-width="0.3" lengthAdjust="spacingAndGlyphs">log</text>
<text x="284.70" y="309.30" font-size="8.8" textLength="6.7" fill="#4C72B0" stroke="#4C72B0" stroke-width="0.3" lengthAdjust="spacingAndGlyphs">10</text>
<text x="292.80" y="307.70" font-size="12" font-style="italic" textLength="8.4" fill="#4C72B0" stroke="#4C72B0" stroke-width="0.3" lengthAdjust="spacingAndGlyphs">N</text>
<text x="300.60" y="309.50" font-size="8.5" font-style="italic" textLength="4.6" fill="#4C72B0" stroke="#4C72B0" stroke-width="0.3" lengthAdjust="spacingAndGlyphs">p</text>
<path d="M225.10,314.60C222.90,314.60 221.20,319.30 219.70,319.30C218.60,319.30 218.40,318.00 218.40,316.95C218.40,315.90 218.60,314.60 219.70,314.60C221.20,314.60 222.90,319.30 225.10,319.30" fill="none" stroke="#008000" stroke-width="1.05"/>
<text x="227.70" y="319.70" font-size="12" textLength="41.5" fill="#008000" stroke="#008000" stroke-width="0.3" lengthAdjust="spacingAndGlyphs">9.2e-02</text>
<text x="269.80" y="319.70" font-size="11.3" textLength="13.6" fill="#008000" stroke="#008000" stroke-width="0.3" lengthAdjust="spacingAndGlyphs">log</text>
<text x="284.70" y="321.30" font-size="8.8" textLength="6.7" fill="#008000" stroke="#008000" stroke-width="0.3" lengthAdjust="spacingAndGlyphs">10</text>
<text x="292.80" y="319.70" font-size="12" font-style="italic" textLength="8.4" fill="#008000" stroke="#008000" stroke-width="0.3" lengthAdjust="spacingAndGlyphs">N</text>
<text x="300.60" y="321.50" font-size="8.5" font-style="italic" textLength="4.6" fill="#008000" stroke="#008000" stroke-width="0.3" lengthAdjust="spacingAndGlyphs">p</text>
<path d="M225.10,326.60C222.90,326.60 221.20,331.30 219.70,331.30C218.60,331.30 218.40,330.00 218.40,328.95C218.40,327.90 218.60,326.60 219.70,326.60C221.20,326.60 222.90,331.30 225.10,331.30" fill="none" stroke="#FFA500" stroke-width="1.05"/>
<text x="227.70" y="331.70" font-size="12" textLength="41.5" fill="#FFA500" stroke="#FFA500" stroke-width="0.3" lengthAdjust="spacingAndGlyphs">4.5e-01</text>
<text x="269.80" y="331.70" font-size="11.3" textLength="13.6" fill="#FFA500" stroke="#FFA500" stroke-width="0.3" lengthAdjust="spacingAndGlyphs">log</text>
<text x="284.70" y="333.30" font-size="8.8" textLength="6.7" fill="#FFA500" stroke="#FFA500" stroke-width="0.3" lengthAdjust="spacingAndGlyphs">10</text>
<text x="292.80" y="331.70" font-size="12" font-style="italic" textLength="8.4" fill="#FFA500" stroke="#FFA500" stroke-width="0.3" lengthAdjust="spacingAndGlyphs">N</text>
<text x="300.60" y="333.50" font-size="8.5" font-style="italic" textLength="4.6" fill="#FFA500" stroke="#FFA500" stroke-width="0.3" lengthAdjust="spacingAndGlyphs">p</text>
<path d="M476.30,278.60C474.10,278.60 472.40,283.30 470.90,283.30C469.80,283.30 469.60,282.00 469.60,280.95C469.60,279.90 469.80,278.60 470.90,278.60C472.40,278.60 474.10,283.30 476.30,283.30" fill="none" stroke="#D53E58" stroke-width="1.05"/>
<text x="478.90" y="283.70" font-size="12" textLength="41.5" fill="#D53E58" stroke="#D53E58" stroke-width="0.3" lengthAdjust="spacingAndGlyphs">1.1e-01</text>
<text x="521.00" y="283.70" font-size="11.3" textLength="13.6" fill="#D53E58" stroke="#D53E58" stroke-width="0.3" lengthAdjust="spacingAndGlyphs">log</text>
<text x="535.90" y="285.30" font-size="8.8" textLength="6.7" fill="#D53E58" stroke="#D53E58" stroke-width="0.3" lengthAdjust="spacingAndGlyphs">10</text>
<text x="544.00" y="283.70" font-size="12" font-style="italic" textLength="8.4" fill="#D53E58" stroke="#D53E58" stroke-width="0.3" lengthAdjust="spacingAndGlyphs">N</text>
<text x="551.80" y="285.50" font-size="8.5" font-style="italic" textLength="4.6" fill="#D53E58" stroke="#D53E58" stroke-width="0.3" lengthAdjust="spacingAndGlyphs">p</text>
<path d="M476.30,290.60C474.10,290.60 472.40,295.30 470.90,295.30C469.80,295.30 469.60,294.00 469.60,292.95C469.60,291.90 469.80,290.60 470.90,290.60C472.40,290.60 474.10,295.30 476.30,295.30" fill="none" stroke="#800080" stroke-width="1.05"/>
<text x="478.90" y="295.70" font-size="12" textLength="41.5" fill="#800080" stroke="#800080" stroke-width="0.3" lengthAdjust="spacingAndGlyphs">6.4e-02</text>
<text x="521.00" y="295.70" font-size="11.3" textLength="13.6" fill="#800080" stroke="#800080" stroke-width="0.3" lengthAdjust="spacingAndGlyphs">log</text>
<text x="535.90" y="297.30" font-size="8.8" textLength="6.7" fill="#800080" stroke="#800080" stroke-width="0.3" lengthAdjust="spacingAndGlyphs">10</text>
<text x="544.00" y="295.70" font-size="12" font-style="italic" textLength="8.4" fill="#800080" stroke="#800080" stroke-width="0.3" lengthAdjust="spacingAndGlyphs">N</text>
<text x="551.80" y="297.50" font-size="8.5" font-style="italic" textLength="4.6" fill="#800080" stroke="#800080" stroke-width="0.3" lengthAdjust="spacingAndGlyphs">p</text>
<path d="M476.30,302.60C474.10,302.60 472.40,307.30 470.90,307.30C469.80,307.30 469.60,306.00 469.60,304.95C469.60,303.90 469.80,302.60 470.90,302.60C472.40,302.60 474.10,307.30 476.30,307.30" fill="none" stroke="#4C72B0" stroke-width="1.05"/>
<text x="478.90" y="307.70" font-size="12" textLength="41.5" fill="#4C72B0" stroke="#4C72B0" stroke-width="0.3" lengthAdjust="spacingAndGlyphs">1.1e-01</text>
<text x="521.00" y="307.70" font-size="11.3" textLength="13.6" fill="#4C72B0" stroke="#4C72B0" stroke-width="0.3" lengthAdjust="spacingAndGlyphs">log</text>
<text x="535.90" y="309.30" font-size="8.8" textLength="6.7" fill="#4C72B0" stroke="#4C72B0" stroke-width="0.3" lengthAdjust="spacingAndGlyphs">10</text>
<text x="544.00" y="307.70" font-size="12" font-style="italic" textLength="8.4" fill="#4C72B0" stroke="#4C72B0" stroke-width="0.3" lengthAdjust="spacingAndGlyphs">N</text>
<text x="551.80" y="309.50" font-size="8.5" font-style="italic" textLength="4.6" fill="#4C72B0" stroke="#4C72B0" stroke-width="0.3" lengthAdjust="spacingAndGlyphs">p</text>
<path d="M476.30,314.60C474.10,314.60 472.40,319.30 470.90,319.30C469.80,319.30 469.60,318.00 469.60,316.95C469.60,315.90 469.80,314.60 470.90,314.60C472.40,314.60 474.10,319.30 476.30,319.30" fill="none" stroke="#008000" stroke-width="1.05"/>
<text x="478.90" y="319.70" font-size="12" textLength="41.5" fill="#008000" stroke="#008000" stroke-width="0.3" lengthAdjust="spacingAndGlyphs">9.2e-02</text>
<text x="521.00" y="319.70" font-size="11.3" textLength="13.6" fill="#008000" stroke="#008000" stroke-width="0.3" lengthAdjust="spacingAndGlyphs">log</text>
<text x="535.90" y="321.30" font-size="8.8" textLength="6.7" fill="#008000" stroke="#008000" stroke-width="0.3" lengthAdjust="spacingAndGlyphs">10</text>
<text x="544.00" y="319.70" font-size="12" font-style="italic" textLength="8.4" fill="#008000" stroke="#008000" stroke-width="0.3" lengthAdjust="spacingAndGlyphs">N</text>
<text x="551.80" y="321.50" font-size="8.5" font-style="italic" textLength="4.6" fill="#008000" stroke="#008000" stroke-width="0.3" lengthAdjust="spacingAndGlyphs">p</text>
<path d="M476.30,326.60C474.10,326.60 472.40,331.30 470.90,331.30C469.80,331.30 469.60,330.00 469.60,328.95C469.60,327.90 469.80,326.60 470.90,326.60C472.40,326.60 474.10,331.30 476.30,331.30" fill="none" stroke="#FFA500" stroke-width="1.05"/>
<text x="478.90" y="331.70" font-size="12" textLength="41.5" fill="#FFA500" stroke="#FFA500" stroke-width="0.3" lengthAdjust="spacingAndGlyphs">4.9e-01</text>
<text x="521.00" y="331.70" font-size="11.3" textLength="13.6" fill="#FFA500" stroke="#FFA500" stroke-width="0.3" lengthAdjust="spacingAndGlyphs">log</text>
<text x="535.90" y="333.30" font-size="8.8" textLength="6.7" fill="#FFA500" stroke="#FFA500" stroke-width="0.3" lengthAdjust="spacingAndGlyphs">10</text>
<text x="544.00" y="331.70" font-size="12" font-style="italic" textLength="8.4" fill="#FFA500" stroke="#FFA500" stroke-width="0.3" lengthAdjust="spacingAndGlyphs">N</text>
<text x="551.80" y="333.50" font-size="8.5" font-style="italic" textLength="4.6" fill="#FFA500" stroke="#FFA500" stroke-width="0.3" lengthAdjust="spacingAndGlyphs">p</text>
<path d="M727.30,278.60C725.10,278.60 723.40,283.30 721.90,283.30C720.80,283.30 720.60,282.00 720.60,280.95C720.60,279.90 720.80,278.60 721.90,278.60C723.40,278.60 725.10,283.30 727.30,283.30" fill="none" stroke="#D53E58" stroke-width="1.05"/>
<text x="729.90" y="283.70" font-size="12" textLength="41.5" fill="#D53E58" stroke="#D53E58" stroke-width="0.3" lengthAdjust="spacingAndGlyphs">5.6e-02</text>
<text x="772.00" y="283.70" font-size="11.3" textLength="13.6" fill="#D53E58" stroke="#D53E58" stroke-width="0.3" lengthAdjust="spacingAndGlyphs">log</text>
<text x="786.90" y="285.30" font-size="8.8" textLength="6.7" fill="#D53E58" stroke="#D53E58" stroke-width="0.3" lengthAdjust="spacingAndGlyphs">10</text>
<text x="795.00" y="283.70" font-size="12" font-style="italic" textLength="8.4" fill="#D53E58" stroke="#D53E58" stroke-width="0.3" lengthAdjust="spacingAndGlyphs">N</text>
<text x="802.80" y="285.50" font-size="8.5" font-style="italic" textLength="4.6" fill="#D53E58" stroke="#D53E58" stroke-width="0.3" lengthAdjust="spacingAndGlyphs">p</text>
<path d="M727.30,290.60C725.10,290.60 723.40,295.30 721.90,295.30C720.80,295.30 720.60,294.00 720.60,292.95C720.60,291.90 720.80,290.60 721.90,290.60C723.40,290.60 725.10,295.30 727.30,295.30" fill="none" stroke="#800080" stroke-width="1.05"/>
<text x="729.90" y="295.70" font-size="12" textLength="41.5" fill="#800080" stroke="#800080" stroke-width="0.3" lengthAdjust="spacingAndGlyphs">3.2e-02</text>
<text x="772.00" y="295.70" font-size="11.3" textLength="13.6" fill="#800080" stroke="#800080" stroke-width="0.3" lengthAdjust="spacingAndGlyphs">log</text>
<text x="786.90" y="297.30" font-size="8.8" textLength="6.7" fill="#800080" stroke="#800080" stroke-width="0.3" lengthAdjust="spacingAndGlyphs">10</text>
<text x="795.00" y="295.70" font-size="12" font-style="italic" textLength="8.4" fill="#800080" stroke="#800080" stroke-width="0.3" lengthAdjust="spacingAndGlyphs">N</text>
<text x="802.80" y="297.50" font-size="8.5" font-style="italic" textLength="4.6" fill="#800080" stroke="#800080" stroke-width="0.3" lengthAdjust="spacingAndGlyphs">p</text>
<path d="M727.30,302.60C725.10,302.60 723.40,307.30 721.90,307.30C720.80,307.30 720.60,306.00 720.60,304.95C720.60,303.90 720.80,302.60 721.90,302.60C723.40,302.60 725.10,307.30 727.30,307.30" fill="none" stroke="#4C72B0" stroke-width="1.05"/>
<text x="729.90" y="307.70" font-size="12" textLength="41.5" fill="#4C72B0" stroke="#4C72B0" stroke-width="0.3" lengthAdjust="spacingAndGlyphs">5.4e-02</text>
<text x="772.00" y="307.70" font-size="11.3" textLength="13.6" fill="#4C72B0" stroke="#4C72B0" stroke-width="0.3" lengthAdjust="spacingAndGlyphs">log</text>
<text x="786.90" y="309.30" font-size="8.8" textLength="6.7" fill="#4C72B0" stroke="#4C72B0" stroke-width="0.3" lengthAdjust="spacingAndGlyphs">10</text>
<text x="795.00" y="307.70" font-size="12" font-style="italic" textLength="8.4" fill="#4C72B0" stroke="#4C72B0" stroke-width="0.3" lengthAdjust="spacingAndGlyphs">N</text>
<text x="802.80" y="309.50" font-size="8.5" font-style="italic" textLength="4.6" fill="#4C72B0" stroke="#4C72B0" stroke-width="0.3" lengthAdjust="spacingAndGlyphs">p</text>
<path d="M727.30,314.60C725.10,314.60 723.40,319.30 721.90,319.30C720.80,319.30 720.60,318.00 720.60,316.95C720.60,315.90 720.80,314.60 721.90,314.60C723.40,314.60 725.10,319.30 727.30,319.30" fill="none" stroke="#008000" stroke-width="1.05"/>
<text x="729.90" y="319.70" font-size="12" textLength="41.5" fill="#008000" stroke="#008000" stroke-width="0.3" lengthAdjust="spacingAndGlyphs">2.3e-02</text>
<text x="772.00" y="319.70" font-size="11.3" textLength="13.6" fill="#008000" stroke="#008000" stroke-width="0.3" lengthAdjust="spacingAndGlyphs">log</text>
<text x="786.90" y="321.30" font-size="8.8" textLength="6.7" fill="#008000" stroke="#008000" stroke-width="0.3" lengthAdjust="spacingAndGlyphs">10</text>
<text x="795.00" y="319.70" font-size="12" font-style="italic" textLength="8.4" fill="#008000" stroke="#008000" stroke-width="0.3" lengthAdjust="spacingAndGlyphs">N</text>
<text x="802.80" y="321.50" font-size="8.5" font-style="italic" textLength="4.6" fill="#008000" stroke="#008000" stroke-width="0.3" lengthAdjust="spacingAndGlyphs">p</text>
<path d="M727.30,326.60C725.10,326.60 723.40,331.30 721.90,331.30C720.80,331.30 720.60,330.00 720.60,328.95C720.60,327.90 720.80,326.60 721.90,326.60C723.40,326.60 725.10,331.30 727.30,331.30" fill="none" stroke="#FFA500" stroke-width="1.05"/>
<text x="729.90" y="331.70" font-size="12" textLength="41.5" fill="#FFA500" stroke="#FFA500" stroke-width="0.3" lengthAdjust="spacingAndGlyphs">7.0e-01</text>
<text x="772.00" y="331.70" font-size="11.3" textLength="13.6" fill="#FFA500" stroke="#FFA500" stroke-width="0.3" lengthAdjust="spacingAndGlyphs">log</text>
<text x="786.90" y="333.30" font-size="8.8" textLength="6.7" fill="#FFA500" stroke="#FFA500" stroke-width="0.3" lengthAdjust="spacingAndGlyphs">10</text>
<text x="795.00" y="331.70" font-size="12" font-style="italic" textLength="8.4" fill="#FFA500" stroke="#FFA500" stroke-width="0.3" lengthAdjust="spacingAndGlyphs">N</text>
<text x="802.80" y="333.50" font-size="8.5" font-style="italic" textLength="4.6" fill="#FFA500" stroke="#FFA500" stroke-width="0.3" lengthAdjust="spacingAndGlyphs">p</text>
<rect x="17.5" y="357.5" width="309.3" height="15" rx="2" fill="#fff" stroke="#ccc" stroke-width="0.9"/>
<circle cx="30.70" cy="365.10" r="3.2" fill="#D53E58"/>
<polygon points="75.70,361.20 76.64,363.71 79.31,363.83 77.22,365.49 77.93,368.07 75.70,366.60 73.47,368.07 74.18,365.49 72.09,363.83 74.76,363.71" fill="#800080"/>
<path d="M167.60,362.60L172.40,367.40M167.60,367.40L172.40,362.60" stroke="#4C72B0" stroke-width="1.6"/>
<polygon points="214.50,360.60 217.00,365.20 214.50,369.80 212.00,365.20" fill="#008000"/>
<polygon points="259.80,360.60 262.30,365.20 259.80,369.80 257.30,365.20" fill="#FFA500"/>
<text x="37" y="368.1" font-size="13.8" stroke="#000" stroke-width="0.25" textLength="32.5" lengthAdjust="spacingAndGlyphs">RRDB</text>
<text x="83" y="368.1" font-size="13.8" stroke="#000" stroke-width="0.25" textLength="80" lengthAdjust="spacingAndGlyphs">(+ Grad. Loss)</text>
<text x="176" y="368.1" font-size="13.8" stroke="#000" stroke-width="0.25" textLength="33" lengthAdjust="spacingAndGlyphs">EDSR</text>
<text x="220" y="368.1" font-size="13.8" stroke="#000" stroke-width="0.25" textLength="35" lengthAdjust="spacingAndGlyphs">RCAN</text>
<text x="266" y="368.1" font-size="13.8" stroke="#000" stroke-width="0.25" textLength="58" lengthAdjust="spacingAndGlyphs">Conv-FNO</text>
<rect x="542.8" y="357.3" width="276.7" height="15.5" rx="2" fill="#fff" stroke="#ccc" stroke-width="0.9"/>
<path d="M544.2,364.8H571" stroke="#000" stroke-width="1.6" stroke-dasharray="1.6 2.4"/>
<text x="574.3" y="368.1" font-size="13.8" stroke="#000" stroke-width="0.25" textLength="80.5" lengthAdjust="spacingAndGlyphs">Scaling Rel.</text>
<path d="M658.4,364.8H685.5" stroke="#000" stroke-width="1.8" stroke-dasharray="9 3.7 1.6 3.7"/>
<text x="688.1" y="368.1" font-size="13.8" stroke="#000" stroke-width="0.25" textLength="36.2" lengthAdjust="spacingAndGlyphs">Mean</text>
<rect x="728.4" y="359.2" width="27.1" height="10" fill="#c8c8c8"/>
<text x="758.6" y="368.1" font-size="13.8" stroke="#000" stroke-width="0.25" textLength="59.7" lengthAdjust="spacingAndGlyphs">Std. Dev.</text></svg>
</body></html>
